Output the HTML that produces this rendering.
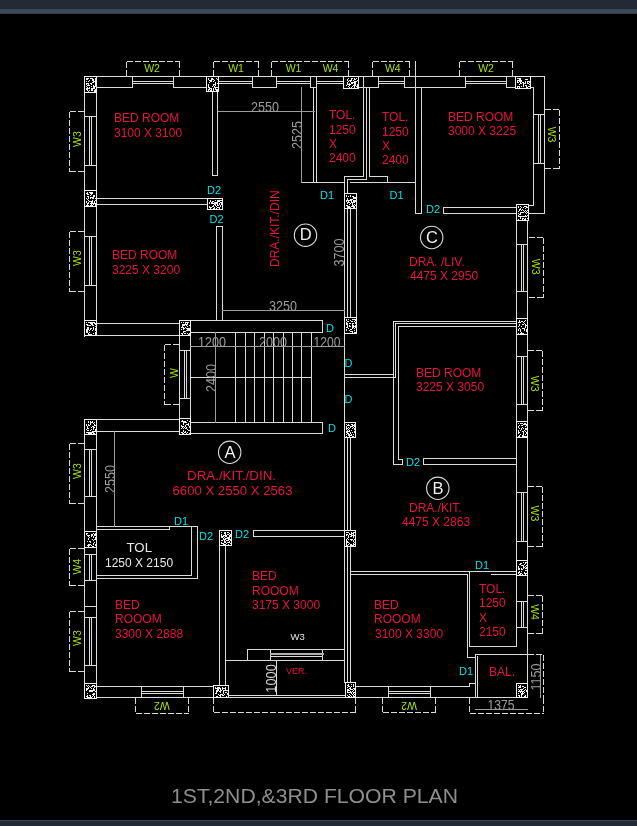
<!DOCTYPE html>
<html><head><meta charset="utf-8"><style>
html,body{margin:0;padding:0;background:#000;width:637px;height:826px;overflow:hidden}
svg{display:block;will-change:transform;font-family:"Liberation Sans",sans-serif}
</style></head><body>
<svg width="637" height="826" viewBox="0 0 637 826" shape-rendering="crispEdges">
<defs><linearGradient id="tb" x1="0" y1="0" x2="0" y2="1">
<stop offset="0" stop-color="#3a4353"/><stop offset="0.5" stop-color="#434c5d"/><stop offset="1" stop-color="#353d4c"/></linearGradient></defs>
<rect x="0" y="0" width="637" height="826" fill="#000"/>
<rect x="0" y="0" width="637" height="9" fill="#232a35"/>
<rect x="0" y="9" width="637" height="5" fill="url(#tb)"/>
<rect x="0" y="820" width="637" height="6" fill="#232a35"/>
<rect x="0" y="820" width="637" height="1" fill="#3e4757"/>
<line x1="84.5" y1="76.5" x2="544.5" y2="76.5" stroke="#dadada" stroke-width="1" stroke-linecap="square"/>
<line x1="96.5" y1="87.5" x2="132.5" y2="87.5" stroke="#dadada" stroke-width="1" stroke-linecap="square"/>
<line x1="173.5" y1="87.5" x2="206.5" y2="87.5" stroke="#dadada" stroke-width="1" stroke-linecap="square"/>
<line x1="218.5" y1="87.5" x2="218.5" y2="87.5" stroke="#dadada" stroke-width="1" stroke-linecap="square"/>
<line x1="252.5" y1="87.5" x2="276.5" y2="87.5" stroke="#dadada" stroke-width="1" stroke-linecap="square"/>
<line x1="310.5" y1="87.5" x2="316.5" y2="87.5" stroke="#dadada" stroke-width="1" stroke-linecap="square"/>
<line x1="343.5" y1="87.5" x2="343.5" y2="87.5" stroke="#dadada" stroke-width="1" stroke-linecap="square"/>
<line x1="358.5" y1="87.5" x2="378.5" y2="87.5" stroke="#dadada" stroke-width="1" stroke-linecap="square"/>
<line x1="404.5" y1="87.5" x2="465.5" y2="87.5" stroke="#dadada" stroke-width="1" stroke-linecap="square"/>
<line x1="506.5" y1="87.5" x2="515.5" y2="87.5" stroke="#dadada" stroke-width="1" stroke-linecap="square"/>
<line x1="530.5" y1="87.5" x2="533.5" y2="87.5" stroke="#dadada" stroke-width="1" stroke-linecap="square"/>
<rect x="252.5" y="76.5" width="24.0" height="11.0" fill="none" stroke="#dadada" stroke-width="1"/>
<line x1="132.5" y1="76.5" x2="132.5" y2="87.5" stroke="#dadada" stroke-width="1" stroke-linecap="square"/>
<line x1="173.5" y1="76.5" x2="173.5" y2="87.5" stroke="#dadada" stroke-width="1" stroke-linecap="square"/>
<line x1="132.5" y1="81.5" x2="173.5" y2="81.5" stroke="#dadada" stroke-width="1" stroke-linecap="square"/>
<line x1="132.5" y1="83.5" x2="173.5" y2="83.5" stroke="#dadada" stroke-width="1" stroke-linecap="square"/>
<line x1="218.5" y1="76.5" x2="218.5" y2="87.5" stroke="#dadada" stroke-width="1" stroke-linecap="square"/>
<line x1="252.5" y1="76.5" x2="252.5" y2="87.5" stroke="#dadada" stroke-width="1" stroke-linecap="square"/>
<line x1="218.5" y1="81.5" x2="252.5" y2="81.5" stroke="#dadada" stroke-width="1" stroke-linecap="square"/>
<line x1="218.5" y1="83.5" x2="252.5" y2="83.5" stroke="#dadada" stroke-width="1" stroke-linecap="square"/>
<line x1="276.5" y1="76.5" x2="276.5" y2="87.5" stroke="#dadada" stroke-width="1" stroke-linecap="square"/>
<line x1="310.5" y1="76.5" x2="310.5" y2="87.5" stroke="#dadada" stroke-width="1" stroke-linecap="square"/>
<line x1="276.5" y1="81.5" x2="310.5" y2="81.5" stroke="#dadada" stroke-width="1" stroke-linecap="square"/>
<line x1="276.5" y1="83.5" x2="310.5" y2="83.5" stroke="#dadada" stroke-width="1" stroke-linecap="square"/>
<line x1="316.5" y1="76.5" x2="316.5" y2="87.5" stroke="#dadada" stroke-width="1" stroke-linecap="square"/>
<line x1="343.5" y1="76.5" x2="343.5" y2="87.5" stroke="#dadada" stroke-width="1" stroke-linecap="square"/>
<line x1="316.5" y1="81.5" x2="343.5" y2="81.5" stroke="#dadada" stroke-width="1" stroke-linecap="square"/>
<line x1="316.5" y1="83.5" x2="343.5" y2="83.5" stroke="#dadada" stroke-width="1" stroke-linecap="square"/>
<line x1="378.5" y1="76.5" x2="378.5" y2="87.5" stroke="#dadada" stroke-width="1" stroke-linecap="square"/>
<line x1="404.5" y1="76.5" x2="404.5" y2="87.5" stroke="#dadada" stroke-width="1" stroke-linecap="square"/>
<line x1="378.5" y1="81.5" x2="404.5" y2="81.5" stroke="#dadada" stroke-width="1" stroke-linecap="square"/>
<line x1="378.5" y1="83.5" x2="404.5" y2="83.5" stroke="#dadada" stroke-width="1" stroke-linecap="square"/>
<line x1="465.5" y1="76.5" x2="465.5" y2="87.5" stroke="#dadada" stroke-width="1" stroke-linecap="square"/>
<line x1="506.5" y1="76.5" x2="506.5" y2="87.5" stroke="#dadada" stroke-width="1" stroke-linecap="square"/>
<line x1="465.5" y1="81.5" x2="506.5" y2="81.5" stroke="#dadada" stroke-width="1" stroke-linecap="square"/>
<line x1="465.5" y1="83.5" x2="506.5" y2="83.5" stroke="#dadada" stroke-width="1" stroke-linecap="square"/>
<line x1="84.5" y1="76.5" x2="84.5" y2="336.5" stroke="#dadada" stroke-width="1" stroke-linecap="square"/>
<line x1="96.5" y1="87.5" x2="96.5" y2="320.5" stroke="#dadada" stroke-width="1" stroke-linecap="square"/>
<line x1="84.5" y1="419.5" x2="84.5" y2="698.5" stroke="#dadada" stroke-width="1" stroke-linecap="square"/>
<line x1="96.5" y1="434.5" x2="96.5" y2="686.5" stroke="#dadada" stroke-width="1" stroke-linecap="square"/>
<line x1="84.5" y1="116.5" x2="96.5" y2="116.5" stroke="#dadada" stroke-width="1" stroke-linecap="square"/>
<line x1="84.5" y1="165.5" x2="96.5" y2="165.5" stroke="#dadada" stroke-width="1" stroke-linecap="square"/>
<line x1="89.5" y1="116.5" x2="89.5" y2="165.5" stroke="#dadada" stroke-width="1" stroke-linecap="square"/>
<line x1="91.5" y1="116.5" x2="91.5" y2="165.5" stroke="#dadada" stroke-width="1" stroke-linecap="square"/>
<line x1="84.5" y1="236.5" x2="96.5" y2="236.5" stroke="#dadada" stroke-width="1" stroke-linecap="square"/>
<line x1="84.5" y1="285.5" x2="96.5" y2="285.5" stroke="#dadada" stroke-width="1" stroke-linecap="square"/>
<line x1="89.5" y1="236.5" x2="89.5" y2="285.5" stroke="#dadada" stroke-width="1" stroke-linecap="square"/>
<line x1="91.5" y1="236.5" x2="91.5" y2="285.5" stroke="#dadada" stroke-width="1" stroke-linecap="square"/>
<line x1="84.5" y1="449.5" x2="96.5" y2="449.5" stroke="#dadada" stroke-width="1" stroke-linecap="square"/>
<line x1="84.5" y1="496.5" x2="96.5" y2="496.5" stroke="#dadada" stroke-width="1" stroke-linecap="square"/>
<line x1="89.5" y1="449.5" x2="89.5" y2="496.5" stroke="#dadada" stroke-width="1" stroke-linecap="square"/>
<line x1="91.5" y1="449.5" x2="91.5" y2="496.5" stroke="#dadada" stroke-width="1" stroke-linecap="square"/>
<line x1="84.5" y1="554.5" x2="96.5" y2="554.5" stroke="#dadada" stroke-width="1" stroke-linecap="square"/>
<line x1="84.5" y1="580.5" x2="96.5" y2="580.5" stroke="#dadada" stroke-width="1" stroke-linecap="square"/>
<line x1="89.5" y1="554.5" x2="89.5" y2="580.5" stroke="#dadada" stroke-width="1" stroke-linecap="square"/>
<line x1="91.5" y1="554.5" x2="91.5" y2="580.5" stroke="#dadada" stroke-width="1" stroke-linecap="square"/>
<line x1="84.5" y1="617.5" x2="96.5" y2="617.5" stroke="#dadada" stroke-width="1" stroke-linecap="square"/>
<line x1="84.5" y1="665.5" x2="96.5" y2="665.5" stroke="#dadada" stroke-width="1" stroke-linecap="square"/>
<line x1="89.5" y1="617.5" x2="89.5" y2="665.5" stroke="#dadada" stroke-width="1" stroke-linecap="square"/>
<line x1="91.5" y1="617.5" x2="91.5" y2="665.5" stroke="#dadada" stroke-width="1" stroke-linecap="square"/>
<line x1="84.5" y1="606.5" x2="96.5" y2="606.5" stroke="#dadada" stroke-width="1" stroke-linecap="square"/>
<line x1="544.5" y1="76.5" x2="544.5" y2="213.5" stroke="#dadada" stroke-width="1" stroke-linecap="square"/>
<line x1="533.5" y1="87.5" x2="533.5" y2="205.5" stroke="#dadada" stroke-width="1" stroke-linecap="square"/>
<polyline points="533.5,205.5 528.5,205.5" fill="none" stroke="#dadada" stroke-width="1"/>
<polyline points="544.5,213.5 528.5,213.5" fill="none" stroke="#dadada" stroke-width="1"/>
<line x1="544.5" y1="114.5" x2="533.5" y2="114.5" stroke="#dadada" stroke-width="1" stroke-linecap="square"/>
<line x1="544.5" y1="163.5" x2="533.5" y2="163.5" stroke="#dadada" stroke-width="1" stroke-linecap="square"/>
<line x1="538.5" y1="114.5" x2="538.5" y2="163.5" stroke="#dadada" stroke-width="1" stroke-linecap="square"/>
<line x1="540.5" y1="114.5" x2="540.5" y2="163.5" stroke="#dadada" stroke-width="1" stroke-linecap="square"/>
<line x1="516.5" y1="220.5" x2="516.5" y2="646.5" stroke="#dadada" stroke-width="1" stroke-linecap="square"/>
<line x1="527.5" y1="213.5" x2="527.5" y2="697.5" stroke="#dadada" stroke-width="1" stroke-linecap="square"/>
<line x1="527.5" y1="244.5" x2="516.5" y2="244.5" stroke="#dadada" stroke-width="1" stroke-linecap="square"/>
<line x1="527.5" y1="291.5" x2="516.5" y2="291.5" stroke="#dadada" stroke-width="1" stroke-linecap="square"/>
<line x1="521.5" y1="244.5" x2="521.5" y2="291.5" stroke="#dadada" stroke-width="1" stroke-linecap="square"/>
<line x1="523.5" y1="244.5" x2="523.5" y2="291.5" stroke="#dadada" stroke-width="1" stroke-linecap="square"/>
<line x1="527.5" y1="356.5" x2="516.5" y2="356.5" stroke="#dadada" stroke-width="1" stroke-linecap="square"/>
<line x1="527.5" y1="404.5" x2="516.5" y2="404.5" stroke="#dadada" stroke-width="1" stroke-linecap="square"/>
<line x1="521.5" y1="356.5" x2="521.5" y2="404.5" stroke="#dadada" stroke-width="1" stroke-linecap="square"/>
<line x1="523.5" y1="356.5" x2="523.5" y2="404.5" stroke="#dadada" stroke-width="1" stroke-linecap="square"/>
<line x1="527.5" y1="492.5" x2="516.5" y2="492.5" stroke="#dadada" stroke-width="1" stroke-linecap="square"/>
<line x1="527.5" y1="541.5" x2="516.5" y2="541.5" stroke="#dadada" stroke-width="1" stroke-linecap="square"/>
<line x1="521.5" y1="492.5" x2="521.5" y2="541.5" stroke="#dadada" stroke-width="1" stroke-linecap="square"/>
<line x1="523.5" y1="492.5" x2="523.5" y2="541.5" stroke="#dadada" stroke-width="1" stroke-linecap="square"/>
<line x1="527.5" y1="601.5" x2="516.5" y2="601.5" stroke="#dadada" stroke-width="1" stroke-linecap="square"/>
<line x1="527.5" y1="627.5" x2="516.5" y2="627.5" stroke="#dadada" stroke-width="1" stroke-linecap="square"/>
<line x1="521.5" y1="601.5" x2="521.5" y2="627.5" stroke="#dadada" stroke-width="1" stroke-linecap="square"/>
<line x1="523.5" y1="601.5" x2="523.5" y2="627.5" stroke="#dadada" stroke-width="1" stroke-linecap="square"/>
<line x1="84.5" y1="697.5" x2="475.5" y2="697.5" stroke="#dadada" stroke-width="1" stroke-linecap="square"/>
<line x1="96.5" y1="686.5" x2="213.5" y2="686.5" stroke="#dadada" stroke-width="1" stroke-linecap="square"/>
<line x1="141.5" y1="697.5" x2="141.5" y2="686.5" stroke="#dadada" stroke-width="1" stroke-linecap="square"/>
<line x1="183.5" y1="697.5" x2="183.5" y2="686.5" stroke="#dadada" stroke-width="1" stroke-linecap="square"/>
<line x1="141.5" y1="691.5" x2="183.5" y2="691.5" stroke="#dadada" stroke-width="1" stroke-linecap="square"/>
<line x1="141.5" y1="693.5" x2="183.5" y2="693.5" stroke="#dadada" stroke-width="1" stroke-linecap="square"/>
<polyline points="212.5,91.5 212.5,175.5 217.5,175.5 217.5,91.5" fill="none" stroke="#dadada" stroke-width="1"/>
<line x1="96.5" y1="198.5" x2="207.5" y2="198.5" stroke="#dadada" stroke-width="1" stroke-linecap="square"/>
<line x1="96.5" y1="204.5" x2="207.5" y2="204.5" stroke="#dadada" stroke-width="1" stroke-linecap="square"/>
<polyline points="216.5,320.5 216.5,226.5 222.5,226.5 222.5,320.5" fill="none" stroke="#dadada" stroke-width="1"/>
<line x1="96.5" y1="323.5" x2="179.5" y2="323.5" stroke="#dadada" stroke-width="1" stroke-linecap="square"/>
<line x1="96.5" y1="335.5" x2="179.5" y2="335.5" stroke="#dadada" stroke-width="1" stroke-linecap="square"/>
<line x1="84.5" y1="336.5" x2="84.5" y2="336.5" stroke="#dadada" stroke-width="1" stroke-linecap="square"/>
<line x1="96.5" y1="431.5" x2="179.5" y2="431.5" stroke="#dadada" stroke-width="1" stroke-linecap="square"/>
<line x1="84.5" y1="419.5" x2="179.5" y2="419.5" stroke="#dadada" stroke-width="1" stroke-linecap="square"/>
<line x1="313.5" y1="87.5" x2="313.5" y2="182.5" stroke="#dadada" stroke-width="1" stroke-linecap="square"/>
<line x1="316.5" y1="87.5" x2="316.5" y2="182.5" stroke="#dadada" stroke-width="1" stroke-linecap="square"/>
<line x1="301.5" y1="182.5" x2="344.5" y2="182.5" stroke="#dadada" stroke-width="1" stroke-linecap="square"/>
<line x1="301.5" y1="87.5" x2="301.5" y2="182.5" stroke="#9c9c9c" stroke-width="1" stroke-linecap="square"/>
<polyline points="363.5,76.5 363.5,176.5 344.5,176.5 344.5,193.5" fill="none" stroke="#dadada" stroke-width="1"/>
<polyline points="366.5,87.5 366.5,179.5 347.5,179.5 347.5,193.5" fill="none" stroke="#dadada" stroke-width="1"/>
<polyline points="369.5,87.5 369.5,176.5 387.5,176.5 387.5,182.5" fill="none" stroke="#dadada" stroke-width="1"/>
<line x1="350.5" y1="182.5" x2="415.5" y2="182.5" stroke="#dadada" stroke-width="1" stroke-linecap="square"/>
<polyline points="415.5,60.5 415.5,213.5 421.5,213.5 421.5,87.5" fill="none" stroke="#dadada" stroke-width="1"/>
<polyline points="443.5,213.5 443.5,207.5 516.5,207.5" fill="none" stroke="#dadada" stroke-width="1"/>
<line x1="443.5" y1="213.5" x2="516.5" y2="213.5" stroke="#dadada" stroke-width="1" stroke-linecap="square"/>
<line x1="344.5" y1="208.5" x2="344.5" y2="317.5" stroke="#dadada" stroke-width="1" stroke-linecap="square"/>
<line x1="347.5" y1="208.5" x2="347.5" y2="317.5" stroke="#dadada" stroke-width="1" stroke-linecap="square"/>
<line x1="350.5" y1="208.5" x2="350.5" y2="317.5" stroke="#dadada" stroke-width="1" stroke-linecap="square"/>
<line x1="356.5" y1="208.5" x2="356.5" y2="317.5" stroke="#dadada" stroke-width="1" stroke-linecap="square"/>
<rect x="179.5" y="320.5" width="143.0" height="12.0" fill="none" stroke="#dadada" stroke-width="1"/>
<line x1="344.5" y1="333.5" x2="344.5" y2="422.5" stroke="#dadada" stroke-width="1" stroke-linecap="square"/>
<line x1="235.5" y1="332.5" x2="235.5" y2="422.5" stroke="#dadada" stroke-width="1" stroke-linecap="square"/>
<line x1="245.5" y1="332.5" x2="245.5" y2="422.5" stroke="#dadada" stroke-width="1" stroke-linecap="square"/>
<line x1="254.5" y1="332.5" x2="254.5" y2="422.5" stroke="#dadada" stroke-width="1" stroke-linecap="square"/>
<line x1="264.5" y1="332.5" x2="264.5" y2="422.5" stroke="#dadada" stroke-width="1" stroke-linecap="square"/>
<line x1="273.5" y1="332.5" x2="273.5" y2="422.5" stroke="#dadada" stroke-width="1" stroke-linecap="square"/>
<line x1="283.5" y1="332.5" x2="283.5" y2="422.5" stroke="#dadada" stroke-width="1" stroke-linecap="square"/>
<line x1="292.5" y1="332.5" x2="292.5" y2="422.5" stroke="#dadada" stroke-width="1" stroke-linecap="square"/>
<line x1="301.5" y1="332.5" x2="301.5" y2="422.5" stroke="#dadada" stroke-width="1" stroke-linecap="square"/>
<line x1="311.5" y1="332.5" x2="311.5" y2="422.5" stroke="#dadada" stroke-width="1" stroke-linecap="square"/>
<line x1="190.5" y1="377.5" x2="311.5" y2="377.5" stroke="#dadada" stroke-width="1" stroke-linecap="square"/>
<polyline points="190.5,422.5 322.5,422.5 322.5,433.5 190.5,433.5" fill="none" stroke="#dadada" stroke-width="1"/>
<line x1="179.5" y1="335.5" x2="179.5" y2="418.5" stroke="#dadada" stroke-width="1" stroke-linecap="square"/>
<line x1="190.5" y1="335.5" x2="190.5" y2="418.5" stroke="#dadada" stroke-width="1" stroke-linecap="square"/>
<line x1="179.5" y1="350.5" x2="190.5" y2="350.5" stroke="#dadada" stroke-width="1" stroke-linecap="square"/>
<line x1="179.5" y1="398.5" x2="190.5" y2="398.5" stroke="#dadada" stroke-width="1" stroke-linecap="square"/>
<line x1="184.5" y1="350.5" x2="184.5" y2="398.5" stroke="#dadada" stroke-width="1" stroke-linecap="square"/>
<line x1="186.5" y1="350.5" x2="186.5" y2="398.5" stroke="#dadada" stroke-width="1" stroke-linecap="square"/>
<line x1="345.5" y1="374.5" x2="393.5" y2="374.5" stroke="#dadada" stroke-width="1" stroke-linecap="square"/>
<line x1="345.5" y1="377.5" x2="395.5" y2="377.5" stroke="#dadada" stroke-width="1" stroke-linecap="square"/>
<polyline points="393.5,464.5 393.5,321.5 516.5,321.5" fill="none" stroke="#dadada" stroke-width="1"/>
<polyline points="395.5,377.5 395.5,323.5 516.5,323.5" fill="none" stroke="#dadada" stroke-width="1"/>
<polyline points="402.5,464.5 402.5,459.5 398.5,459.5 398.5,326.5 516.5,326.5" fill="none" stroke="#dadada" stroke-width="1"/>
<line x1="393.5" y1="464.5" x2="402.5" y2="464.5" stroke="#dadada" stroke-width="1" stroke-linecap="square"/>
<polyline points="516.5,458.5 423.5,458.5 423.5,464.5 516.5,464.5" fill="none" stroke="#dadada" stroke-width="1"/>
<line x1="344.5" y1="437.5" x2="344.5" y2="530.5" stroke="#dadada" stroke-width="1" stroke-linecap="square"/>
<line x1="344.5" y1="546.5" x2="344.5" y2="682.5" stroke="#dadada" stroke-width="1" stroke-linecap="square"/>
<line x1="347.5" y1="437.5" x2="347.5" y2="530.5" stroke="#dadada" stroke-width="1" stroke-linecap="square"/>
<line x1="347.5" y1="546.5" x2="347.5" y2="682.5" stroke="#dadada" stroke-width="1" stroke-linecap="square"/>
<line x1="350.5" y1="437.5" x2="350.5" y2="530.5" stroke="#dadada" stroke-width="1" stroke-linecap="square"/>
<line x1="350.5" y1="546.5" x2="350.5" y2="682.5" stroke="#dadada" stroke-width="1" stroke-linecap="square"/>
<polyline points="96.5,526.5 197.5,526.5 197.5,578.5 96.5,578.5" fill="none" stroke="#dadada" stroke-width="1"/>
<polyline points="96.5,529.5 169.5,529.5 169.5,526.5" fill="none" stroke="#dadada" stroke-width="1"/>
<polyline points="191.5,526.5 191.5,575.5 96.5,575.5" fill="none" stroke="#dadada" stroke-width="1"/>
<line x1="114.5" y1="431.5" x2="114.5" y2="526.5" stroke="#9c9c9c" stroke-width="1" stroke-linecap="square"/>
<polyline points="253.5,536.5 253.5,530.5 344.5,530.5" fill="none" stroke="#dadada" stroke-width="1"/>
<line x1="253.5" y1="536.5" x2="344.5" y2="536.5" stroke="#dadada" stroke-width="1" stroke-linecap="square"/>
<line x1="219.5" y1="545.5" x2="219.5" y2="685.5" stroke="#dadada" stroke-width="1" stroke-linecap="square"/>
<line x1="225.5" y1="545.5" x2="225.5" y2="686.5" stroke="#dadada" stroke-width="1" stroke-linecap="square"/>
<rect x="247.5" y="649.5" width="97.0" height="11.0" fill="none" stroke="#dadada" stroke-width="1"/>
<line x1="270.5" y1="649.5" x2="270.5" y2="660.5" stroke="#dadada" stroke-width="1" stroke-linecap="square"/>
<line x1="322.5" y1="649.5" x2="322.5" y2="660.5" stroke="#dadada" stroke-width="1" stroke-linecap="square"/>
<line x1="270.5" y1="653.5" x2="322.5" y2="653.5" stroke="#b0b0b0" stroke-width="2" stroke-linecap="square"/>
<line x1="270.5" y1="656.5" x2="322.5" y2="656.5" stroke="#dadada" stroke-width="1" stroke-linecap="square"/>
<line x1="225.5" y1="660.5" x2="344.5" y2="660.5" stroke="#dadada" stroke-width="1" stroke-linecap="square"/>
<line x1="276.5" y1="660.5" x2="276.5" y2="695.5" stroke="#dadada" stroke-width="1" stroke-linecap="square"/>
<line x1="228.5" y1="695.5" x2="345.5" y2="695.5" stroke="#dadada" stroke-width="1" stroke-linecap="square"/>
<line x1="350.5" y1="571.5" x2="516.5" y2="571.5" stroke="#dadada" stroke-width="1" stroke-linecap="square"/>
<line x1="350.5" y1="574.5" x2="467.5" y2="574.5" stroke="#dadada" stroke-width="1" stroke-linecap="square"/>
<polyline points="467.5,574.5 467.5,657.5 475.5,657.5" fill="none" stroke="#dadada" stroke-width="1"/>
<polyline points="469.5,571.5 469.5,646.5 516.5,646.5" fill="none" stroke="#dadada" stroke-width="1"/>
<line x1="491.5" y1="574.5" x2="516.5" y2="574.5" stroke="#dadada" stroke-width="1" stroke-linecap="square"/>
<rect x="475.5" y="654.5" width="52.0" height="43.0" fill="none" stroke="#dadada" stroke-width="1"/>
<line x1="477.5" y1="656.5" x2="477.5" y2="697.5" stroke="#dadada" stroke-width="1" stroke-linecap="square"/>
<polyline points="355.5,686.5 469.5,686.5 469.5,683.5 475.5,683.5" fill="none" stroke="#dadada" stroke-width="1"/>
<line x1="388.5" y1="697.5" x2="388.5" y2="686.5" stroke="#dadada" stroke-width="1" stroke-linecap="square"/>
<line x1="430.5" y1="697.5" x2="430.5" y2="686.5" stroke="#dadada" stroke-width="1" stroke-linecap="square"/>
<line x1="388.5" y1="691.5" x2="430.5" y2="691.5" stroke="#dadada" stroke-width="1" stroke-linecap="square"/>
<line x1="388.5" y1="693.5" x2="430.5" y2="693.5" stroke="#dadada" stroke-width="1" stroke-linecap="square"/>
<line x1="126.5" y1="61.5" x2="179.5" y2="61.5" stroke="#dadada" stroke-width="1" stroke-dasharray="6,2" fill="none"/>
<line x1="126.5" y1="61.5" x2="126.5" y2="76.5" stroke="#dadada" stroke-width="1" stroke-dasharray="6,2" fill="none"/>
<line x1="179.5" y1="61.5" x2="179.5" y2="76.5" stroke="#dadada" stroke-width="1" stroke-dasharray="6,2" fill="none"/>
<line x1="213.5" y1="61.5" x2="258.5" y2="61.5" stroke="#dadada" stroke-width="1" stroke-dasharray="6,2" fill="none"/>
<line x1="213.5" y1="61.5" x2="213.5" y2="76.5" stroke="#dadada" stroke-width="1" stroke-dasharray="6,2" fill="none"/>
<line x1="258.5" y1="61.5" x2="258.5" y2="76.5" stroke="#dadada" stroke-width="1" stroke-dasharray="6,2" fill="none"/>
<line x1="271.5" y1="61.5" x2="348.5" y2="61.5" stroke="#dadada" stroke-width="1" stroke-dasharray="6,2" fill="none"/>
<line x1="271.5" y1="61.5" x2="271.5" y2="76.5" stroke="#dadada" stroke-width="1" stroke-dasharray="6,2" fill="none"/>
<line x1="348.5" y1="61.5" x2="348.5" y2="76.5" stroke="#dadada" stroke-width="1" stroke-dasharray="6,2" fill="none"/>
<line x1="372.5" y1="61.5" x2="409.5" y2="61.5" stroke="#dadada" stroke-width="1" stroke-dasharray="6,2" fill="none"/>
<line x1="372.5" y1="61.5" x2="372.5" y2="76.5" stroke="#dadada" stroke-width="1" stroke-dasharray="6,2" fill="none"/>
<line x1="409.5" y1="61.5" x2="409.5" y2="76.5" stroke="#dadada" stroke-width="1" stroke-dasharray="6,2" fill="none"/>
<line x1="459.5" y1="61.5" x2="512.5" y2="61.5" stroke="#dadada" stroke-width="1" stroke-dasharray="6,2" fill="none"/>
<line x1="459.5" y1="61.5" x2="459.5" y2="76.5" stroke="#dadada" stroke-width="1" stroke-dasharray="6,2" fill="none"/>
<line x1="512.5" y1="61.5" x2="512.5" y2="76.5" stroke="#dadada" stroke-width="1" stroke-dasharray="6,2" fill="none"/>
<line x1="69.5" y1="111.5" x2="84.5" y2="111.5" stroke="#dadada" stroke-width="1" stroke-dasharray="6,2" fill="none"/>
<line x1="69.5" y1="171.5" x2="84.5" y2="171.5" stroke="#dadada" stroke-width="1" stroke-dasharray="6,2" fill="none"/>
<line x1="69.5" y1="111.5" x2="69.5" y2="171.5" stroke="#dadada" stroke-width="1" stroke-dasharray="6,2" fill="none"/>
<line x1="69.5" y1="231.5" x2="84.5" y2="231.5" stroke="#dadada" stroke-width="1" stroke-dasharray="6,2" fill="none"/>
<line x1="69.5" y1="291.5" x2="84.5" y2="291.5" stroke="#dadada" stroke-width="1" stroke-dasharray="6,2" fill="none"/>
<line x1="69.5" y1="231.5" x2="69.5" y2="291.5" stroke="#dadada" stroke-width="1" stroke-dasharray="6,2" fill="none"/>
<line x1="164.5" y1="344.5" x2="179.5" y2="344.5" stroke="#dadada" stroke-width="1" stroke-dasharray="6,2" fill="none"/>
<line x1="164.5" y1="404.5" x2="179.5" y2="404.5" stroke="#dadada" stroke-width="1" stroke-dasharray="6,2" fill="none"/>
<line x1="164.5" y1="344.5" x2="164.5" y2="404.5" stroke="#dadada" stroke-width="1" stroke-dasharray="6,2" fill="none"/>
<line x1="69.5" y1="443.5" x2="84.5" y2="443.5" stroke="#dadada" stroke-width="1" stroke-dasharray="6,2" fill="none"/>
<line x1="69.5" y1="503.5" x2="84.5" y2="503.5" stroke="#dadada" stroke-width="1" stroke-dasharray="6,2" fill="none"/>
<line x1="69.5" y1="443.5" x2="69.5" y2="503.5" stroke="#dadada" stroke-width="1" stroke-dasharray="6,2" fill="none"/>
<line x1="69.5" y1="548.5" x2="84.5" y2="548.5" stroke="#dadada" stroke-width="1" stroke-dasharray="6,2" fill="none"/>
<line x1="69.5" y1="585.5" x2="84.5" y2="585.5" stroke="#dadada" stroke-width="1" stroke-dasharray="6,2" fill="none"/>
<line x1="69.5" y1="548.5" x2="69.5" y2="585.5" stroke="#dadada" stroke-width="1" stroke-dasharray="6,2" fill="none"/>
<line x1="69.5" y1="611.5" x2="84.5" y2="611.5" stroke="#dadada" stroke-width="1" stroke-dasharray="6,2" fill="none"/>
<line x1="69.5" y1="671.5" x2="84.5" y2="671.5" stroke="#dadada" stroke-width="1" stroke-dasharray="6,2" fill="none"/>
<line x1="69.5" y1="611.5" x2="69.5" y2="671.5" stroke="#dadada" stroke-width="1" stroke-dasharray="6,2" fill="none"/>
<line x1="544.5" y1="109.5" x2="559.5" y2="109.5" stroke="#dadada" stroke-width="1" stroke-dasharray="6,2" fill="none"/>
<line x1="544.5" y1="168.5" x2="559.5" y2="168.5" stroke="#dadada" stroke-width="1" stroke-dasharray="6,2" fill="none"/>
<line x1="559.5" y1="109.5" x2="559.5" y2="168.5" stroke="#dadada" stroke-width="1" stroke-dasharray="6,2" fill="none"/>
<line x1="528.5" y1="237.5" x2="543.5" y2="237.5" stroke="#dadada" stroke-width="1" stroke-dasharray="6,2" fill="none"/>
<line x1="528.5" y1="297.5" x2="543.5" y2="297.5" stroke="#dadada" stroke-width="1" stroke-dasharray="6,2" fill="none"/>
<line x1="543.5" y1="237.5" x2="543.5" y2="297.5" stroke="#dadada" stroke-width="1" stroke-dasharray="6,2" fill="none"/>
<line x1="527.5" y1="350.5" x2="542.5" y2="350.5" stroke="#dadada" stroke-width="1" stroke-dasharray="6,2" fill="none"/>
<line x1="527.5" y1="410.5" x2="542.5" y2="410.5" stroke="#dadada" stroke-width="1" stroke-dasharray="6,2" fill="none"/>
<line x1="542.5" y1="350.5" x2="542.5" y2="410.5" stroke="#dadada" stroke-width="1" stroke-dasharray="6,2" fill="none"/>
<line x1="527.5" y1="486.5" x2="542.5" y2="486.5" stroke="#dadada" stroke-width="1" stroke-dasharray="6,2" fill="none"/>
<line x1="527.5" y1="546.5" x2="542.5" y2="546.5" stroke="#dadada" stroke-width="1" stroke-dasharray="6,2" fill="none"/>
<line x1="542.5" y1="486.5" x2="542.5" y2="546.5" stroke="#dadada" stroke-width="1" stroke-dasharray="6,2" fill="none"/>
<line x1="527.5" y1="595.5" x2="542.5" y2="595.5" stroke="#dadada" stroke-width="1" stroke-dasharray="6,2" fill="none"/>
<line x1="527.5" y1="633.5" x2="542.5" y2="633.5" stroke="#dadada" stroke-width="1" stroke-dasharray="6,2" fill="none"/>
<line x1="542.5" y1="595.5" x2="542.5" y2="633.5" stroke="#dadada" stroke-width="1" stroke-dasharray="6,2" fill="none"/>
<line x1="135.5" y1="713.5" x2="188.5" y2="713.5" stroke="#dadada" stroke-width="1" stroke-dasharray="6,2" fill="none"/>
<line x1="135.5" y1="697.5" x2="135.5" y2="713.5" stroke="#dadada" stroke-width="1" stroke-dasharray="6,2" fill="none"/>
<line x1="188.5" y1="697.5" x2="188.5" y2="713.5" stroke="#dadada" stroke-width="1" stroke-dasharray="6,2" fill="none"/>
<line x1="213.5" y1="712.5" x2="355.5" y2="712.5" stroke="#dadada" stroke-width="1" stroke-dasharray="6,2" fill="none"/>
<line x1="213.5" y1="697.5" x2="213.5" y2="712.5" stroke="#dadada" stroke-width="1" stroke-dasharray="6,2" fill="none"/>
<line x1="355.5" y1="697.5" x2="355.5" y2="712.5" stroke="#dadada" stroke-width="1" stroke-dasharray="6,2" fill="none"/>
<line x1="382.5" y1="712.5" x2="435.5" y2="712.5" stroke="#dadada" stroke-width="1" stroke-dasharray="6,2" fill="none"/>
<line x1="382.5" y1="697.5" x2="382.5" y2="712.5" stroke="#dadada" stroke-width="1" stroke-dasharray="6,2" fill="none"/>
<line x1="435.5" y1="697.5" x2="435.5" y2="712.5" stroke="#dadada" stroke-width="1" stroke-dasharray="6,2" fill="none"/>
<line x1="469.5" y1="713.5" x2="543.5" y2="713.5" stroke="#dadada" stroke-width="1" stroke-dasharray="6,2" fill="none"/>
<line x1="469.5" y1="697.5" x2="469.5" y2="713.5" stroke="#dadada" stroke-width="1" stroke-dasharray="6,2" fill="none"/>
<line x1="543.5" y1="697.5" x2="543.5" y2="713.5" stroke="#dadada" stroke-width="1" stroke-dasharray="6,2" fill="none"/>
<line x1="527.5" y1="654.5" x2="543.5" y2="654.5" stroke="#dadada" stroke-width="1" stroke-dasharray="6,2" fill="none"/>
<line x1="543.5" y1="654.5" x2="543.5" y2="697.5" stroke="#dadada" stroke-width="1" stroke-dasharray="6,2" fill="none"/>
<rect x="84.5" y="76.5" width="12.0" height="16.0" fill="#000" stroke="#f0f0f0" stroke-width="1"/>
<rect x="86" y="78" width="1" height="1" fill="#f0f0f0"/>
<rect x="86" y="79" width="1" height="1" fill="#f0f0f0"/>
<rect x="86" y="81" width="1" height="1" fill="#f0f0f0"/>
<rect x="86" y="83" width="1" height="1" fill="#f0f0f0"/>
<rect x="86" y="84" width="1" height="1" fill="#f0f0f0"/>
<rect x="86" y="86" width="1" height="1" fill="#f0f0f0"/>
<rect x="86" y="88" width="1" height="1" fill="#f0f0f0"/>
<rect x="86" y="89" width="1" height="1" fill="#f0f0f0"/>
<rect x="87" y="78" width="1" height="1" fill="#f0f0f0"/>
<rect x="87" y="79" width="1" height="1" fill="#f0f0f0"/>
<rect x="87" y="83" width="1" height="1" fill="#f0f0f0"/>
<rect x="87" y="85" width="1" height="1" fill="#f0f0f0"/>
<rect x="87" y="87" width="1" height="1" fill="#f0f0f0"/>
<rect x="87" y="88" width="1" height="1" fill="#f0f0f0"/>
<rect x="87" y="89" width="1" height="1" fill="#f0f0f0"/>
<rect x="87" y="90" width="1" height="1" fill="#f0f0f0"/>
<rect x="88" y="78" width="1" height="1" fill="#f0f0f0"/>
<rect x="88" y="81" width="1" height="1" fill="#f0f0f0"/>
<rect x="88" y="83" width="1" height="1" fill="#f0f0f0"/>
<rect x="88" y="84" width="1" height="1" fill="#f0f0f0"/>
<rect x="88" y="85" width="1" height="1" fill="#f0f0f0"/>
<rect x="88" y="88" width="1" height="1" fill="#f0f0f0"/>
<rect x="88" y="91" width="1" height="1" fill="#f0f0f0"/>
<rect x="89" y="80" width="1" height="1" fill="#f0f0f0"/>
<rect x="89" y="85" width="1" height="1" fill="#f0f0f0"/>
<rect x="89" y="87" width="1" height="1" fill="#f0f0f0"/>
<rect x="89" y="88" width="1" height="1" fill="#f0f0f0"/>
<rect x="89" y="90" width="1" height="1" fill="#f0f0f0"/>
<rect x="90" y="78" width="1" height="1" fill="#f0f0f0"/>
<rect x="90" y="83" width="1" height="1" fill="#f0f0f0"/>
<rect x="91" y="78" width="1" height="1" fill="#f0f0f0"/>
<rect x="91" y="83" width="1" height="1" fill="#f0f0f0"/>
<rect x="91" y="84" width="1" height="1" fill="#f0f0f0"/>
<rect x="91" y="86" width="1" height="1" fill="#f0f0f0"/>
<rect x="91" y="88" width="1" height="1" fill="#f0f0f0"/>
<rect x="91" y="89" width="1" height="1" fill="#f0f0f0"/>
<rect x="91" y="90" width="1" height="1" fill="#f0f0f0"/>
<rect x="92" y="78" width="1" height="1" fill="#f0f0f0"/>
<rect x="92" y="79" width="1" height="1" fill="#f0f0f0"/>
<rect x="92" y="80" width="1" height="1" fill="#f0f0f0"/>
<rect x="92" y="82" width="1" height="1" fill="#f0f0f0"/>
<rect x="92" y="88" width="1" height="1" fill="#f0f0f0"/>
<rect x="92" y="89" width="1" height="1" fill="#f0f0f0"/>
<rect x="92" y="90" width="1" height="1" fill="#f0f0f0"/>
<rect x="93" y="79" width="1" height="1" fill="#f0f0f0"/>
<rect x="93" y="80" width="1" height="1" fill="#f0f0f0"/>
<rect x="93" y="81" width="1" height="1" fill="#f0f0f0"/>
<rect x="93" y="82" width="1" height="1" fill="#f0f0f0"/>
<rect x="93" y="85" width="1" height="1" fill="#f0f0f0"/>
<rect x="93" y="86" width="1" height="1" fill="#f0f0f0"/>
<rect x="93" y="87" width="1" height="1" fill="#f0f0f0"/>
<rect x="93" y="88" width="1" height="1" fill="#f0f0f0"/>
<rect x="94" y="81" width="1" height="1" fill="#f0f0f0"/>
<rect x="94" y="86" width="1" height="1" fill="#f0f0f0"/>
<rect x="94" y="87" width="1" height="1" fill="#f0f0f0"/>
<rect x="94" y="88" width="1" height="1" fill="#f0f0f0"/>
<rect x="94" y="90" width="1" height="1" fill="#f0f0f0"/>
<rect x="94" y="91" width="1" height="1" fill="#f0f0f0"/>
<rect x="95" y="78" width="1" height="1" fill="#f0f0f0"/>
<rect x="95" y="79" width="1" height="1" fill="#f0f0f0"/>
<rect x="95" y="80" width="1" height="1" fill="#f0f0f0"/>
<rect x="95" y="81" width="1" height="1" fill="#f0f0f0"/>
<rect x="95" y="82" width="1" height="1" fill="#f0f0f0"/>
<rect x="95" y="83" width="1" height="1" fill="#f0f0f0"/>
<rect x="95" y="84" width="1" height="1" fill="#f0f0f0"/>
<rect x="95" y="85" width="1" height="1" fill="#f0f0f0"/>
<rect x="95" y="86" width="1" height="1" fill="#f0f0f0"/>
<rect x="95" y="89" width="1" height="1" fill="#f0f0f0"/>
<rect x="95" y="90" width="1" height="1" fill="#f0f0f0"/>
<rect x="95" y="91" width="1" height="1" fill="#f0f0f0"/>
<rect x="206.5" y="76.5" width="12.0" height="15.0" fill="#000" stroke="#f0f0f0" stroke-width="1"/>
<rect x="208" y="78" width="1" height="1" fill="#f0f0f0"/>
<rect x="208" y="79" width="1" height="1" fill="#f0f0f0"/>
<rect x="208" y="84" width="1" height="1" fill="#f0f0f0"/>
<rect x="208" y="85" width="1" height="1" fill="#f0f0f0"/>
<rect x="208" y="86" width="1" height="1" fill="#f0f0f0"/>
<rect x="208" y="87" width="1" height="1" fill="#f0f0f0"/>
<rect x="208" y="89" width="1" height="1" fill="#f0f0f0"/>
<rect x="208" y="90" width="1" height="1" fill="#f0f0f0"/>
<rect x="209" y="80" width="1" height="1" fill="#f0f0f0"/>
<rect x="209" y="82" width="1" height="1" fill="#f0f0f0"/>
<rect x="209" y="87" width="1" height="1" fill="#f0f0f0"/>
<rect x="209" y="88" width="1" height="1" fill="#f0f0f0"/>
<rect x="209" y="89" width="1" height="1" fill="#f0f0f0"/>
<rect x="210" y="80" width="1" height="1" fill="#f0f0f0"/>
<rect x="210" y="81" width="1" height="1" fill="#f0f0f0"/>
<rect x="210" y="88" width="1" height="1" fill="#f0f0f0"/>
<rect x="210" y="90" width="1" height="1" fill="#f0f0f0"/>
<rect x="211" y="78" width="1" height="1" fill="#f0f0f0"/>
<rect x="211" y="79" width="1" height="1" fill="#f0f0f0"/>
<rect x="211" y="80" width="1" height="1" fill="#f0f0f0"/>
<rect x="211" y="81" width="1" height="1" fill="#f0f0f0"/>
<rect x="211" y="88" width="1" height="1" fill="#f0f0f0"/>
<rect x="211" y="89" width="1" height="1" fill="#f0f0f0"/>
<rect x="211" y="90" width="1" height="1" fill="#f0f0f0"/>
<rect x="212" y="78" width="1" height="1" fill="#f0f0f0"/>
<rect x="212" y="79" width="1" height="1" fill="#f0f0f0"/>
<rect x="212" y="86" width="1" height="1" fill="#f0f0f0"/>
<rect x="213" y="79" width="1" height="1" fill="#f0f0f0"/>
<rect x="213" y="81" width="1" height="1" fill="#f0f0f0"/>
<rect x="213" y="84" width="1" height="1" fill="#f0f0f0"/>
<rect x="213" y="85" width="1" height="1" fill="#f0f0f0"/>
<rect x="213" y="88" width="1" height="1" fill="#f0f0f0"/>
<rect x="213" y="89" width="1" height="1" fill="#f0f0f0"/>
<rect x="213" y="90" width="1" height="1" fill="#f0f0f0"/>
<rect x="214" y="80" width="1" height="1" fill="#f0f0f0"/>
<rect x="214" y="84" width="1" height="1" fill="#f0f0f0"/>
<rect x="214" y="86" width="1" height="1" fill="#f0f0f0"/>
<rect x="214" y="87" width="1" height="1" fill="#f0f0f0"/>
<rect x="215" y="82" width="1" height="1" fill="#f0f0f0"/>
<rect x="215" y="83" width="1" height="1" fill="#f0f0f0"/>
<rect x="215" y="84" width="1" height="1" fill="#f0f0f0"/>
<rect x="215" y="85" width="1" height="1" fill="#f0f0f0"/>
<rect x="215" y="87" width="1" height="1" fill="#f0f0f0"/>
<rect x="215" y="88" width="1" height="1" fill="#f0f0f0"/>
<rect x="215" y="89" width="1" height="1" fill="#f0f0f0"/>
<rect x="216" y="78" width="1" height="1" fill="#f0f0f0"/>
<rect x="216" y="87" width="1" height="1" fill="#f0f0f0"/>
<rect x="216" y="89" width="1" height="1" fill="#f0f0f0"/>
<rect x="216" y="90" width="1" height="1" fill="#f0f0f0"/>
<rect x="217" y="79" width="1" height="1" fill="#f0f0f0"/>
<rect x="217" y="83" width="1" height="1" fill="#f0f0f0"/>
<rect x="217" y="87" width="1" height="1" fill="#f0f0f0"/>
<rect x="217" y="89" width="1" height="1" fill="#f0f0f0"/>
<rect x="217" y="90" width="1" height="1" fill="#f0f0f0"/>
<rect x="343.5" y="76.5" width="15.0" height="12.0" fill="#000" stroke="#f0f0f0" stroke-width="1"/>
<rect x="346" y="85" width="1" height="1" fill="#f0f0f0"/>
<rect x="347" y="79" width="1" height="1" fill="#f0f0f0"/>
<rect x="347" y="80" width="1" height="1" fill="#f0f0f0"/>
<rect x="347" y="82" width="1" height="1" fill="#f0f0f0"/>
<rect x="347" y="83" width="1" height="1" fill="#f0f0f0"/>
<rect x="347" y="84" width="1" height="1" fill="#f0f0f0"/>
<rect x="348" y="78" width="1" height="1" fill="#f0f0f0"/>
<rect x="348" y="81" width="1" height="1" fill="#f0f0f0"/>
<rect x="348" y="84" width="1" height="1" fill="#f0f0f0"/>
<rect x="348" y="86" width="1" height="1" fill="#f0f0f0"/>
<rect x="349" y="80" width="1" height="1" fill="#f0f0f0"/>
<rect x="349" y="83" width="1" height="1" fill="#f0f0f0"/>
<rect x="349" y="84" width="1" height="1" fill="#f0f0f0"/>
<rect x="349" y="85" width="1" height="1" fill="#f0f0f0"/>
<rect x="349" y="87" width="1" height="1" fill="#f0f0f0"/>
<rect x="350" y="80" width="1" height="1" fill="#f0f0f0"/>
<rect x="350" y="81" width="1" height="1" fill="#f0f0f0"/>
<rect x="350" y="84" width="1" height="1" fill="#f0f0f0"/>
<rect x="351" y="78" width="1" height="1" fill="#f0f0f0"/>
<rect x="351" y="79" width="1" height="1" fill="#f0f0f0"/>
<rect x="351" y="80" width="1" height="1" fill="#f0f0f0"/>
<rect x="351" y="82" width="1" height="1" fill="#f0f0f0"/>
<rect x="351" y="83" width="1" height="1" fill="#f0f0f0"/>
<rect x="351" y="87" width="1" height="1" fill="#f0f0f0"/>
<rect x="352" y="78" width="1" height="1" fill="#f0f0f0"/>
<rect x="352" y="82" width="1" height="1" fill="#f0f0f0"/>
<rect x="352" y="83" width="1" height="1" fill="#f0f0f0"/>
<rect x="352" y="86" width="1" height="1" fill="#f0f0f0"/>
<rect x="353" y="80" width="1" height="1" fill="#f0f0f0"/>
<rect x="353" y="82" width="1" height="1" fill="#f0f0f0"/>
<rect x="353" y="85" width="1" height="1" fill="#f0f0f0"/>
<rect x="354" y="78" width="1" height="1" fill="#f0f0f0"/>
<rect x="354" y="79" width="1" height="1" fill="#f0f0f0"/>
<rect x="354" y="81" width="1" height="1" fill="#f0f0f0"/>
<rect x="354" y="82" width="1" height="1" fill="#f0f0f0"/>
<rect x="354" y="83" width="1" height="1" fill="#f0f0f0"/>
<rect x="354" y="84" width="1" height="1" fill="#f0f0f0"/>
<rect x="354" y="85" width="1" height="1" fill="#f0f0f0"/>
<rect x="354" y="86" width="1" height="1" fill="#f0f0f0"/>
<rect x="354" y="87" width="1" height="1" fill="#f0f0f0"/>
<rect x="355" y="79" width="1" height="1" fill="#f0f0f0"/>
<rect x="355" y="81" width="1" height="1" fill="#f0f0f0"/>
<rect x="355" y="82" width="1" height="1" fill="#f0f0f0"/>
<rect x="355" y="83" width="1" height="1" fill="#f0f0f0"/>
<rect x="355" y="84" width="1" height="1" fill="#f0f0f0"/>
<rect x="355" y="85" width="1" height="1" fill="#f0f0f0"/>
<rect x="356" y="78" width="1" height="1" fill="#f0f0f0"/>
<rect x="356" y="81" width="1" height="1" fill="#f0f0f0"/>
<rect x="356" y="86" width="1" height="1" fill="#f0f0f0"/>
<rect x="357" y="80" width="1" height="1" fill="#f0f0f0"/>
<rect x="357" y="84" width="1" height="1" fill="#f0f0f0"/>
<rect x="357" y="85" width="1" height="1" fill="#f0f0f0"/>
<rect x="357" y="86" width="1" height="1" fill="#f0f0f0"/>
<rect x="357" y="87" width="1" height="1" fill="#f0f0f0"/>
<rect x="515.5" y="76.5" width="15.0" height="12.0" fill="#000" stroke="#f0f0f0" stroke-width="1"/>
<rect x="517" y="78" width="1" height="1" fill="#f0f0f0"/>
<rect x="517" y="80" width="1" height="1" fill="#f0f0f0"/>
<rect x="517" y="81" width="1" height="1" fill="#f0f0f0"/>
<rect x="517" y="82" width="1" height="1" fill="#f0f0f0"/>
<rect x="517" y="86" width="1" height="1" fill="#f0f0f0"/>
<rect x="517" y="87" width="1" height="1" fill="#f0f0f0"/>
<rect x="518" y="78" width="1" height="1" fill="#f0f0f0"/>
<rect x="518" y="80" width="1" height="1" fill="#f0f0f0"/>
<rect x="518" y="82" width="1" height="1" fill="#f0f0f0"/>
<rect x="518" y="86" width="1" height="1" fill="#f0f0f0"/>
<rect x="519" y="78" width="1" height="1" fill="#f0f0f0"/>
<rect x="519" y="79" width="1" height="1" fill="#f0f0f0"/>
<rect x="519" y="80" width="1" height="1" fill="#f0f0f0"/>
<rect x="519" y="81" width="1" height="1" fill="#f0f0f0"/>
<rect x="519" y="84" width="1" height="1" fill="#f0f0f0"/>
<rect x="519" y="86" width="1" height="1" fill="#f0f0f0"/>
<rect x="519" y="87" width="1" height="1" fill="#f0f0f0"/>
<rect x="520" y="78" width="1" height="1" fill="#f0f0f0"/>
<rect x="520" y="79" width="1" height="1" fill="#f0f0f0"/>
<rect x="520" y="80" width="1" height="1" fill="#f0f0f0"/>
<rect x="520" y="81" width="1" height="1" fill="#f0f0f0"/>
<rect x="520" y="82" width="1" height="1" fill="#f0f0f0"/>
<rect x="520" y="83" width="1" height="1" fill="#f0f0f0"/>
<rect x="521" y="80" width="1" height="1" fill="#f0f0f0"/>
<rect x="521" y="81" width="1" height="1" fill="#f0f0f0"/>
<rect x="521" y="83" width="1" height="1" fill="#f0f0f0"/>
<rect x="521" y="86" width="1" height="1" fill="#f0f0f0"/>
<rect x="522" y="82" width="1" height="1" fill="#f0f0f0"/>
<rect x="523" y="82" width="1" height="1" fill="#f0f0f0"/>
<rect x="523" y="83" width="1" height="1" fill="#f0f0f0"/>
<rect x="523" y="84" width="1" height="1" fill="#f0f0f0"/>
<rect x="523" y="85" width="1" height="1" fill="#f0f0f0"/>
<rect x="523" y="86" width="1" height="1" fill="#f0f0f0"/>
<rect x="524" y="83" width="1" height="1" fill="#f0f0f0"/>
<rect x="525" y="79" width="1" height="1" fill="#f0f0f0"/>
<rect x="525" y="81" width="1" height="1" fill="#f0f0f0"/>
<rect x="525" y="82" width="1" height="1" fill="#f0f0f0"/>
<rect x="525" y="83" width="1" height="1" fill="#f0f0f0"/>
<rect x="525" y="85" width="1" height="1" fill="#f0f0f0"/>
<rect x="526" y="79" width="1" height="1" fill="#f0f0f0"/>
<rect x="526" y="85" width="1" height="1" fill="#f0f0f0"/>
<rect x="526" y="86" width="1" height="1" fill="#f0f0f0"/>
<rect x="526" y="87" width="1" height="1" fill="#f0f0f0"/>
<rect x="527" y="79" width="1" height="1" fill="#f0f0f0"/>
<rect x="527" y="81" width="1" height="1" fill="#f0f0f0"/>
<rect x="527" y="82" width="1" height="1" fill="#f0f0f0"/>
<rect x="527" y="83" width="1" height="1" fill="#f0f0f0"/>
<rect x="527" y="87" width="1" height="1" fill="#f0f0f0"/>
<rect x="528" y="81" width="1" height="1" fill="#f0f0f0"/>
<rect x="528" y="83" width="1" height="1" fill="#f0f0f0"/>
<rect x="528" y="86" width="1" height="1" fill="#f0f0f0"/>
<rect x="529" y="81" width="1" height="1" fill="#f0f0f0"/>
<rect x="529" y="82" width="1" height="1" fill="#f0f0f0"/>
<rect x="529" y="84" width="1" height="1" fill="#f0f0f0"/>
<rect x="529" y="86" width="1" height="1" fill="#f0f0f0"/>
<rect x="84.5" y="190.5" width="12.0" height="16.0" fill="#000" stroke="#f0f0f0" stroke-width="1"/>
<rect x="86" y="193" width="1" height="1" fill="#f0f0f0"/>
<rect x="86" y="198" width="1" height="1" fill="#f0f0f0"/>
<rect x="86" y="201" width="1" height="1" fill="#f0f0f0"/>
<rect x="86" y="202" width="1" height="1" fill="#f0f0f0"/>
<rect x="86" y="205" width="1" height="1" fill="#f0f0f0"/>
<rect x="87" y="192" width="1" height="1" fill="#f0f0f0"/>
<rect x="87" y="193" width="1" height="1" fill="#f0f0f0"/>
<rect x="87" y="194" width="1" height="1" fill="#f0f0f0"/>
<rect x="87" y="196" width="1" height="1" fill="#f0f0f0"/>
<rect x="87" y="199" width="1" height="1" fill="#f0f0f0"/>
<rect x="87" y="203" width="1" height="1" fill="#f0f0f0"/>
<rect x="87" y="204" width="1" height="1" fill="#f0f0f0"/>
<rect x="87" y="205" width="1" height="1" fill="#f0f0f0"/>
<rect x="88" y="194" width="1" height="1" fill="#f0f0f0"/>
<rect x="88" y="196" width="1" height="1" fill="#f0f0f0"/>
<rect x="88" y="197" width="1" height="1" fill="#f0f0f0"/>
<rect x="88" y="198" width="1" height="1" fill="#f0f0f0"/>
<rect x="88" y="200" width="1" height="1" fill="#f0f0f0"/>
<rect x="88" y="202" width="1" height="1" fill="#f0f0f0"/>
<rect x="88" y="203" width="1" height="1" fill="#f0f0f0"/>
<rect x="88" y="205" width="1" height="1" fill="#f0f0f0"/>
<rect x="89" y="192" width="1" height="1" fill="#f0f0f0"/>
<rect x="89" y="201" width="1" height="1" fill="#f0f0f0"/>
<rect x="90" y="192" width="1" height="1" fill="#f0f0f0"/>
<rect x="90" y="193" width="1" height="1" fill="#f0f0f0"/>
<rect x="90" y="195" width="1" height="1" fill="#f0f0f0"/>
<rect x="90" y="197" width="1" height="1" fill="#f0f0f0"/>
<rect x="90" y="198" width="1" height="1" fill="#f0f0f0"/>
<rect x="90" y="201" width="1" height="1" fill="#f0f0f0"/>
<rect x="90" y="203" width="1" height="1" fill="#f0f0f0"/>
<rect x="90" y="205" width="1" height="1" fill="#f0f0f0"/>
<rect x="91" y="192" width="1" height="1" fill="#f0f0f0"/>
<rect x="91" y="193" width="1" height="1" fill="#f0f0f0"/>
<rect x="91" y="194" width="1" height="1" fill="#f0f0f0"/>
<rect x="91" y="197" width="1" height="1" fill="#f0f0f0"/>
<rect x="91" y="201" width="1" height="1" fill="#f0f0f0"/>
<rect x="91" y="202" width="1" height="1" fill="#f0f0f0"/>
<rect x="91" y="203" width="1" height="1" fill="#f0f0f0"/>
<rect x="91" y="204" width="1" height="1" fill="#f0f0f0"/>
<rect x="91" y="205" width="1" height="1" fill="#f0f0f0"/>
<rect x="92" y="192" width="1" height="1" fill="#f0f0f0"/>
<rect x="92" y="193" width="1" height="1" fill="#f0f0f0"/>
<rect x="92" y="197" width="1" height="1" fill="#f0f0f0"/>
<rect x="92" y="198" width="1" height="1" fill="#f0f0f0"/>
<rect x="92" y="200" width="1" height="1" fill="#f0f0f0"/>
<rect x="92" y="201" width="1" height="1" fill="#f0f0f0"/>
<rect x="92" y="202" width="1" height="1" fill="#f0f0f0"/>
<rect x="92" y="203" width="1" height="1" fill="#f0f0f0"/>
<rect x="92" y="205" width="1" height="1" fill="#f0f0f0"/>
<rect x="93" y="195" width="1" height="1" fill="#f0f0f0"/>
<rect x="93" y="196" width="1" height="1" fill="#f0f0f0"/>
<rect x="93" y="197" width="1" height="1" fill="#f0f0f0"/>
<rect x="93" y="198" width="1" height="1" fill="#f0f0f0"/>
<rect x="93" y="203" width="1" height="1" fill="#f0f0f0"/>
<rect x="93" y="204" width="1" height="1" fill="#f0f0f0"/>
<rect x="94" y="195" width="1" height="1" fill="#f0f0f0"/>
<rect x="94" y="196" width="1" height="1" fill="#f0f0f0"/>
<rect x="94" y="201" width="1" height="1" fill="#f0f0f0"/>
<rect x="94" y="202" width="1" height="1" fill="#f0f0f0"/>
<rect x="94" y="203" width="1" height="1" fill="#f0f0f0"/>
<rect x="95" y="198" width="1" height="1" fill="#f0f0f0"/>
<rect x="95" y="200" width="1" height="1" fill="#f0f0f0"/>
<rect x="95" y="203" width="1" height="1" fill="#f0f0f0"/>
<rect x="95" y="204" width="1" height="1" fill="#f0f0f0"/>
<rect x="95" y="205" width="1" height="1" fill="#f0f0f0"/>
<rect x="207.5" y="198.5" width="15.0" height="11.0" fill="#000" stroke="#f0f0f0" stroke-width="1"/>
<rect x="209" y="202" width="1" height="1" fill="#f0f0f0"/>
<rect x="209" y="203" width="1" height="1" fill="#f0f0f0"/>
<rect x="209" y="206" width="1" height="1" fill="#f0f0f0"/>
<rect x="209" y="207" width="1" height="1" fill="#f0f0f0"/>
<rect x="210" y="200" width="1" height="1" fill="#f0f0f0"/>
<rect x="210" y="201" width="1" height="1" fill="#f0f0f0"/>
<rect x="210" y="207" width="1" height="1" fill="#f0f0f0"/>
<rect x="210" y="208" width="1" height="1" fill="#f0f0f0"/>
<rect x="211" y="202" width="1" height="1" fill="#f0f0f0"/>
<rect x="211" y="203" width="1" height="1" fill="#f0f0f0"/>
<rect x="211" y="207" width="1" height="1" fill="#f0f0f0"/>
<rect x="212" y="201" width="1" height="1" fill="#f0f0f0"/>
<rect x="212" y="202" width="1" height="1" fill="#f0f0f0"/>
<rect x="212" y="203" width="1" height="1" fill="#f0f0f0"/>
<rect x="212" y="206" width="1" height="1" fill="#f0f0f0"/>
<rect x="213" y="201" width="1" height="1" fill="#f0f0f0"/>
<rect x="213" y="203" width="1" height="1" fill="#f0f0f0"/>
<rect x="213" y="205" width="1" height="1" fill="#f0f0f0"/>
<rect x="213" y="206" width="1" height="1" fill="#f0f0f0"/>
<rect x="213" y="208" width="1" height="1" fill="#f0f0f0"/>
<rect x="214" y="202" width="1" height="1" fill="#f0f0f0"/>
<rect x="214" y="203" width="1" height="1" fill="#f0f0f0"/>
<rect x="214" y="204" width="1" height="1" fill="#f0f0f0"/>
<rect x="214" y="207" width="1" height="1" fill="#f0f0f0"/>
<rect x="214" y="208" width="1" height="1" fill="#f0f0f0"/>
<rect x="215" y="200" width="1" height="1" fill="#f0f0f0"/>
<rect x="215" y="202" width="1" height="1" fill="#f0f0f0"/>
<rect x="215" y="203" width="1" height="1" fill="#f0f0f0"/>
<rect x="215" y="204" width="1" height="1" fill="#f0f0f0"/>
<rect x="215" y="205" width="1" height="1" fill="#f0f0f0"/>
<rect x="216" y="202" width="1" height="1" fill="#f0f0f0"/>
<rect x="216" y="203" width="1" height="1" fill="#f0f0f0"/>
<rect x="216" y="206" width="1" height="1" fill="#f0f0f0"/>
<rect x="216" y="208" width="1" height="1" fill="#f0f0f0"/>
<rect x="217" y="200" width="1" height="1" fill="#f0f0f0"/>
<rect x="217" y="201" width="1" height="1" fill="#f0f0f0"/>
<rect x="217" y="202" width="1" height="1" fill="#f0f0f0"/>
<rect x="217" y="203" width="1" height="1" fill="#f0f0f0"/>
<rect x="217" y="204" width="1" height="1" fill="#f0f0f0"/>
<rect x="217" y="205" width="1" height="1" fill="#f0f0f0"/>
<rect x="217" y="207" width="1" height="1" fill="#f0f0f0"/>
<rect x="218" y="200" width="1" height="1" fill="#f0f0f0"/>
<rect x="218" y="201" width="1" height="1" fill="#f0f0f0"/>
<rect x="218" y="205" width="1" height="1" fill="#f0f0f0"/>
<rect x="218" y="207" width="1" height="1" fill="#f0f0f0"/>
<rect x="219" y="200" width="1" height="1" fill="#f0f0f0"/>
<rect x="219" y="201" width="1" height="1" fill="#f0f0f0"/>
<rect x="219" y="203" width="1" height="1" fill="#f0f0f0"/>
<rect x="219" y="204" width="1" height="1" fill="#f0f0f0"/>
<rect x="219" y="207" width="1" height="1" fill="#f0f0f0"/>
<rect x="219" y="208" width="1" height="1" fill="#f0f0f0"/>
<rect x="220" y="200" width="1" height="1" fill="#f0f0f0"/>
<rect x="220" y="202" width="1" height="1" fill="#f0f0f0"/>
<rect x="220" y="205" width="1" height="1" fill="#f0f0f0"/>
<rect x="220" y="206" width="1" height="1" fill="#f0f0f0"/>
<rect x="221" y="200" width="1" height="1" fill="#f0f0f0"/>
<rect x="221" y="202" width="1" height="1" fill="#f0f0f0"/>
<rect x="221" y="203" width="1" height="1" fill="#f0f0f0"/>
<rect x="221" y="204" width="1" height="1" fill="#f0f0f0"/>
<rect x="344.5" y="193.5" width="12.0" height="15.0" fill="#000" stroke="#f0f0f0" stroke-width="1"/>
<rect x="346" y="195" width="1" height="1" fill="#f0f0f0"/>
<rect x="346" y="196" width="1" height="1" fill="#f0f0f0"/>
<rect x="346" y="200" width="1" height="1" fill="#f0f0f0"/>
<rect x="346" y="201" width="1" height="1" fill="#f0f0f0"/>
<rect x="346" y="205" width="1" height="1" fill="#f0f0f0"/>
<rect x="347" y="198" width="1" height="1" fill="#f0f0f0"/>
<rect x="347" y="199" width="1" height="1" fill="#f0f0f0"/>
<rect x="347" y="200" width="1" height="1" fill="#f0f0f0"/>
<rect x="347" y="202" width="1" height="1" fill="#f0f0f0"/>
<rect x="347" y="203" width="1" height="1" fill="#f0f0f0"/>
<rect x="347" y="205" width="1" height="1" fill="#f0f0f0"/>
<rect x="347" y="206" width="1" height="1" fill="#f0f0f0"/>
<rect x="347" y="207" width="1" height="1" fill="#f0f0f0"/>
<rect x="348" y="196" width="1" height="1" fill="#f0f0f0"/>
<rect x="348" y="200" width="1" height="1" fill="#f0f0f0"/>
<rect x="348" y="201" width="1" height="1" fill="#f0f0f0"/>
<rect x="348" y="202" width="1" height="1" fill="#f0f0f0"/>
<rect x="348" y="206" width="1" height="1" fill="#f0f0f0"/>
<rect x="348" y="207" width="1" height="1" fill="#f0f0f0"/>
<rect x="349" y="200" width="1" height="1" fill="#f0f0f0"/>
<rect x="349" y="202" width="1" height="1" fill="#f0f0f0"/>
<rect x="349" y="204" width="1" height="1" fill="#f0f0f0"/>
<rect x="349" y="206" width="1" height="1" fill="#f0f0f0"/>
<rect x="349" y="207" width="1" height="1" fill="#f0f0f0"/>
<rect x="350" y="195" width="1" height="1" fill="#f0f0f0"/>
<rect x="350" y="196" width="1" height="1" fill="#f0f0f0"/>
<rect x="350" y="199" width="1" height="1" fill="#f0f0f0"/>
<rect x="350" y="200" width="1" height="1" fill="#f0f0f0"/>
<rect x="350" y="203" width="1" height="1" fill="#f0f0f0"/>
<rect x="350" y="207" width="1" height="1" fill="#f0f0f0"/>
<rect x="351" y="199" width="1" height="1" fill="#f0f0f0"/>
<rect x="351" y="200" width="1" height="1" fill="#f0f0f0"/>
<rect x="351" y="201" width="1" height="1" fill="#f0f0f0"/>
<rect x="351" y="202" width="1" height="1" fill="#f0f0f0"/>
<rect x="351" y="206" width="1" height="1" fill="#f0f0f0"/>
<rect x="352" y="196" width="1" height="1" fill="#f0f0f0"/>
<rect x="352" y="199" width="1" height="1" fill="#f0f0f0"/>
<rect x="352" y="202" width="1" height="1" fill="#f0f0f0"/>
<rect x="352" y="203" width="1" height="1" fill="#f0f0f0"/>
<rect x="352" y="204" width="1" height="1" fill="#f0f0f0"/>
<rect x="352" y="205" width="1" height="1" fill="#f0f0f0"/>
<rect x="352" y="206" width="1" height="1" fill="#f0f0f0"/>
<rect x="353" y="196" width="1" height="1" fill="#f0f0f0"/>
<rect x="353" y="197" width="1" height="1" fill="#f0f0f0"/>
<rect x="353" y="198" width="1" height="1" fill="#f0f0f0"/>
<rect x="353" y="200" width="1" height="1" fill="#f0f0f0"/>
<rect x="353" y="201" width="1" height="1" fill="#f0f0f0"/>
<rect x="353" y="202" width="1" height="1" fill="#f0f0f0"/>
<rect x="353" y="205" width="1" height="1" fill="#f0f0f0"/>
<rect x="353" y="206" width="1" height="1" fill="#f0f0f0"/>
<rect x="353" y="207" width="1" height="1" fill="#f0f0f0"/>
<rect x="354" y="197" width="1" height="1" fill="#f0f0f0"/>
<rect x="354" y="198" width="1" height="1" fill="#f0f0f0"/>
<rect x="354" y="200" width="1" height="1" fill="#f0f0f0"/>
<rect x="354" y="201" width="1" height="1" fill="#f0f0f0"/>
<rect x="354" y="202" width="1" height="1" fill="#f0f0f0"/>
<rect x="354" y="204" width="1" height="1" fill="#f0f0f0"/>
<rect x="354" y="206" width="1" height="1" fill="#f0f0f0"/>
<rect x="354" y="207" width="1" height="1" fill="#f0f0f0"/>
<rect x="355" y="197" width="1" height="1" fill="#f0f0f0"/>
<rect x="355" y="198" width="1" height="1" fill="#f0f0f0"/>
<rect x="355" y="200" width="1" height="1" fill="#f0f0f0"/>
<rect x="355" y="201" width="1" height="1" fill="#f0f0f0"/>
<rect x="355" y="205" width="1" height="1" fill="#f0f0f0"/>
<rect x="516.5" y="204.5" width="12.0" height="16.0" fill="#000" stroke="#f0f0f0" stroke-width="1"/>
<rect x="518" y="206" width="1" height="1" fill="#f0f0f0"/>
<rect x="518" y="207" width="1" height="1" fill="#f0f0f0"/>
<rect x="518" y="211" width="1" height="1" fill="#f0f0f0"/>
<rect x="518" y="213" width="1" height="1" fill="#f0f0f0"/>
<rect x="518" y="215" width="1" height="1" fill="#f0f0f0"/>
<rect x="518" y="216" width="1" height="1" fill="#f0f0f0"/>
<rect x="518" y="219" width="1" height="1" fill="#f0f0f0"/>
<rect x="519" y="209" width="1" height="1" fill="#f0f0f0"/>
<rect x="519" y="210" width="1" height="1" fill="#f0f0f0"/>
<rect x="519" y="214" width="1" height="1" fill="#f0f0f0"/>
<rect x="519" y="216" width="1" height="1" fill="#f0f0f0"/>
<rect x="520" y="206" width="1" height="1" fill="#f0f0f0"/>
<rect x="520" y="208" width="1" height="1" fill="#f0f0f0"/>
<rect x="520" y="209" width="1" height="1" fill="#f0f0f0"/>
<rect x="520" y="212" width="1" height="1" fill="#f0f0f0"/>
<rect x="520" y="213" width="1" height="1" fill="#f0f0f0"/>
<rect x="520" y="214" width="1" height="1" fill="#f0f0f0"/>
<rect x="520" y="216" width="1" height="1" fill="#f0f0f0"/>
<rect x="520" y="217" width="1" height="1" fill="#f0f0f0"/>
<rect x="520" y="218" width="1" height="1" fill="#f0f0f0"/>
<rect x="521" y="207" width="1" height="1" fill="#f0f0f0"/>
<rect x="521" y="210" width="1" height="1" fill="#f0f0f0"/>
<rect x="521" y="212" width="1" height="1" fill="#f0f0f0"/>
<rect x="521" y="216" width="1" height="1" fill="#f0f0f0"/>
<rect x="522" y="209" width="1" height="1" fill="#f0f0f0"/>
<rect x="522" y="212" width="1" height="1" fill="#f0f0f0"/>
<rect x="522" y="216" width="1" height="1" fill="#f0f0f0"/>
<rect x="522" y="218" width="1" height="1" fill="#f0f0f0"/>
<rect x="522" y="219" width="1" height="1" fill="#f0f0f0"/>
<rect x="523" y="207" width="1" height="1" fill="#f0f0f0"/>
<rect x="523" y="210" width="1" height="1" fill="#f0f0f0"/>
<rect x="523" y="212" width="1" height="1" fill="#f0f0f0"/>
<rect x="523" y="216" width="1" height="1" fill="#f0f0f0"/>
<rect x="523" y="218" width="1" height="1" fill="#f0f0f0"/>
<rect x="524" y="206" width="1" height="1" fill="#f0f0f0"/>
<rect x="524" y="211" width="1" height="1" fill="#f0f0f0"/>
<rect x="524" y="216" width="1" height="1" fill="#f0f0f0"/>
<rect x="524" y="219" width="1" height="1" fill="#f0f0f0"/>
<rect x="525" y="206" width="1" height="1" fill="#f0f0f0"/>
<rect x="525" y="208" width="1" height="1" fill="#f0f0f0"/>
<rect x="525" y="210" width="1" height="1" fill="#f0f0f0"/>
<rect x="525" y="212" width="1" height="1" fill="#f0f0f0"/>
<rect x="525" y="215" width="1" height="1" fill="#f0f0f0"/>
<rect x="525" y="216" width="1" height="1" fill="#f0f0f0"/>
<rect x="525" y="218" width="1" height="1" fill="#f0f0f0"/>
<rect x="525" y="219" width="1" height="1" fill="#f0f0f0"/>
<rect x="526" y="206" width="1" height="1" fill="#f0f0f0"/>
<rect x="526" y="207" width="1" height="1" fill="#f0f0f0"/>
<rect x="526" y="211" width="1" height="1" fill="#f0f0f0"/>
<rect x="526" y="213" width="1" height="1" fill="#f0f0f0"/>
<rect x="526" y="216" width="1" height="1" fill="#f0f0f0"/>
<rect x="527" y="207" width="1" height="1" fill="#f0f0f0"/>
<rect x="527" y="210" width="1" height="1" fill="#f0f0f0"/>
<rect x="527" y="212" width="1" height="1" fill="#f0f0f0"/>
<rect x="527" y="215" width="1" height="1" fill="#f0f0f0"/>
<rect x="527" y="218" width="1" height="1" fill="#f0f0f0"/>
<rect x="84.5" y="320.5" width="12.0" height="15.0" fill="#000" stroke="#f0f0f0" stroke-width="1"/>
<rect x="86" y="322" width="1" height="1" fill="#f0f0f0"/>
<rect x="86" y="324" width="1" height="1" fill="#f0f0f0"/>
<rect x="86" y="329" width="1" height="1" fill="#f0f0f0"/>
<rect x="86" y="330" width="1" height="1" fill="#f0f0f0"/>
<rect x="86" y="331" width="1" height="1" fill="#f0f0f0"/>
<rect x="86" y="332" width="1" height="1" fill="#f0f0f0"/>
<rect x="87" y="324" width="1" height="1" fill="#f0f0f0"/>
<rect x="87" y="325" width="1" height="1" fill="#f0f0f0"/>
<rect x="87" y="327" width="1" height="1" fill="#f0f0f0"/>
<rect x="87" y="328" width="1" height="1" fill="#f0f0f0"/>
<rect x="87" y="329" width="1" height="1" fill="#f0f0f0"/>
<rect x="87" y="330" width="1" height="1" fill="#f0f0f0"/>
<rect x="87" y="331" width="1" height="1" fill="#f0f0f0"/>
<rect x="87" y="332" width="1" height="1" fill="#f0f0f0"/>
<rect x="88" y="322" width="1" height="1" fill="#f0f0f0"/>
<rect x="88" y="325" width="1" height="1" fill="#f0f0f0"/>
<rect x="88" y="327" width="1" height="1" fill="#f0f0f0"/>
<rect x="88" y="328" width="1" height="1" fill="#f0f0f0"/>
<rect x="88" y="329" width="1" height="1" fill="#f0f0f0"/>
<rect x="88" y="333" width="1" height="1" fill="#f0f0f0"/>
<rect x="88" y="334" width="1" height="1" fill="#f0f0f0"/>
<rect x="89" y="322" width="1" height="1" fill="#f0f0f0"/>
<rect x="89" y="325" width="1" height="1" fill="#f0f0f0"/>
<rect x="89" y="330" width="1" height="1" fill="#f0f0f0"/>
<rect x="89" y="332" width="1" height="1" fill="#f0f0f0"/>
<rect x="89" y="334" width="1" height="1" fill="#f0f0f0"/>
<rect x="90" y="322" width="1" height="1" fill="#f0f0f0"/>
<rect x="90" y="323" width="1" height="1" fill="#f0f0f0"/>
<rect x="90" y="325" width="1" height="1" fill="#f0f0f0"/>
<rect x="90" y="328" width="1" height="1" fill="#f0f0f0"/>
<rect x="90" y="329" width="1" height="1" fill="#f0f0f0"/>
<rect x="90" y="334" width="1" height="1" fill="#f0f0f0"/>
<rect x="91" y="322" width="1" height="1" fill="#f0f0f0"/>
<rect x="91" y="323" width="1" height="1" fill="#f0f0f0"/>
<rect x="91" y="324" width="1" height="1" fill="#f0f0f0"/>
<rect x="91" y="328" width="1" height="1" fill="#f0f0f0"/>
<rect x="91" y="334" width="1" height="1" fill="#f0f0f0"/>
<rect x="92" y="322" width="1" height="1" fill="#f0f0f0"/>
<rect x="92" y="323" width="1" height="1" fill="#f0f0f0"/>
<rect x="92" y="324" width="1" height="1" fill="#f0f0f0"/>
<rect x="92" y="325" width="1" height="1" fill="#f0f0f0"/>
<rect x="92" y="330" width="1" height="1" fill="#f0f0f0"/>
<rect x="93" y="322" width="1" height="1" fill="#f0f0f0"/>
<rect x="93" y="325" width="1" height="1" fill="#f0f0f0"/>
<rect x="93" y="327" width="1" height="1" fill="#f0f0f0"/>
<rect x="93" y="328" width="1" height="1" fill="#f0f0f0"/>
<rect x="93" y="329" width="1" height="1" fill="#f0f0f0"/>
<rect x="93" y="333" width="1" height="1" fill="#f0f0f0"/>
<rect x="94" y="322" width="1" height="1" fill="#f0f0f0"/>
<rect x="94" y="323" width="1" height="1" fill="#f0f0f0"/>
<rect x="95" y="323" width="1" height="1" fill="#f0f0f0"/>
<rect x="95" y="324" width="1" height="1" fill="#f0f0f0"/>
<rect x="95" y="326" width="1" height="1" fill="#f0f0f0"/>
<rect x="95" y="328" width="1" height="1" fill="#f0f0f0"/>
<rect x="95" y="329" width="1" height="1" fill="#f0f0f0"/>
<rect x="95" y="330" width="1" height="1" fill="#f0f0f0"/>
<rect x="95" y="332" width="1" height="1" fill="#f0f0f0"/>
<rect x="95" y="333" width="1" height="1" fill="#f0f0f0"/>
<rect x="95" y="334" width="1" height="1" fill="#f0f0f0"/>
<rect x="179.5" y="320.5" width="11.0" height="15.0" fill="#000" stroke="#f0f0f0" stroke-width="1"/>
<rect x="181" y="322" width="1" height="1" fill="#f0f0f0"/>
<rect x="181" y="327" width="1" height="1" fill="#f0f0f0"/>
<rect x="181" y="329" width="1" height="1" fill="#f0f0f0"/>
<rect x="181" y="333" width="1" height="1" fill="#f0f0f0"/>
<rect x="182" y="324" width="1" height="1" fill="#f0f0f0"/>
<rect x="182" y="325" width="1" height="1" fill="#f0f0f0"/>
<rect x="182" y="326" width="1" height="1" fill="#f0f0f0"/>
<rect x="182" y="327" width="1" height="1" fill="#f0f0f0"/>
<rect x="182" y="333" width="1" height="1" fill="#f0f0f0"/>
<rect x="182" y="334" width="1" height="1" fill="#f0f0f0"/>
<rect x="183" y="322" width="1" height="1" fill="#f0f0f0"/>
<rect x="183" y="324" width="1" height="1" fill="#f0f0f0"/>
<rect x="183" y="325" width="1" height="1" fill="#f0f0f0"/>
<rect x="183" y="327" width="1" height="1" fill="#f0f0f0"/>
<rect x="183" y="328" width="1" height="1" fill="#f0f0f0"/>
<rect x="183" y="329" width="1" height="1" fill="#f0f0f0"/>
<rect x="183" y="331" width="1" height="1" fill="#f0f0f0"/>
<rect x="183" y="332" width="1" height="1" fill="#f0f0f0"/>
<rect x="184" y="324" width="1" height="1" fill="#f0f0f0"/>
<rect x="184" y="325" width="1" height="1" fill="#f0f0f0"/>
<rect x="184" y="328" width="1" height="1" fill="#f0f0f0"/>
<rect x="184" y="331" width="1" height="1" fill="#f0f0f0"/>
<rect x="184" y="333" width="1" height="1" fill="#f0f0f0"/>
<rect x="185" y="322" width="1" height="1" fill="#f0f0f0"/>
<rect x="185" y="323" width="1" height="1" fill="#f0f0f0"/>
<rect x="185" y="324" width="1" height="1" fill="#f0f0f0"/>
<rect x="185" y="327" width="1" height="1" fill="#f0f0f0"/>
<rect x="185" y="331" width="1" height="1" fill="#f0f0f0"/>
<rect x="185" y="333" width="1" height="1" fill="#f0f0f0"/>
<rect x="186" y="322" width="1" height="1" fill="#f0f0f0"/>
<rect x="186" y="324" width="1" height="1" fill="#f0f0f0"/>
<rect x="186" y="325" width="1" height="1" fill="#f0f0f0"/>
<rect x="186" y="328" width="1" height="1" fill="#f0f0f0"/>
<rect x="186" y="330" width="1" height="1" fill="#f0f0f0"/>
<rect x="187" y="322" width="1" height="1" fill="#f0f0f0"/>
<rect x="187" y="323" width="1" height="1" fill="#f0f0f0"/>
<rect x="187" y="324" width="1" height="1" fill="#f0f0f0"/>
<rect x="187" y="326" width="1" height="1" fill="#f0f0f0"/>
<rect x="187" y="328" width="1" height="1" fill="#f0f0f0"/>
<rect x="187" y="329" width="1" height="1" fill="#f0f0f0"/>
<rect x="187" y="330" width="1" height="1" fill="#f0f0f0"/>
<rect x="187" y="333" width="1" height="1" fill="#f0f0f0"/>
<rect x="188" y="322" width="1" height="1" fill="#f0f0f0"/>
<rect x="188" y="328" width="1" height="1" fill="#f0f0f0"/>
<rect x="188" y="329" width="1" height="1" fill="#f0f0f0"/>
<rect x="188" y="330" width="1" height="1" fill="#f0f0f0"/>
<rect x="188" y="334" width="1" height="1" fill="#f0f0f0"/>
<rect x="189" y="325" width="1" height="1" fill="#f0f0f0"/>
<rect x="189" y="328" width="1" height="1" fill="#f0f0f0"/>
<rect x="189" y="329" width="1" height="1" fill="#f0f0f0"/>
<rect x="189" y="330" width="1" height="1" fill="#f0f0f0"/>
<rect x="189" y="333" width="1" height="1" fill="#f0f0f0"/>
<rect x="189" y="334" width="1" height="1" fill="#f0f0f0"/>
<rect x="344.5" y="317.5" width="12.0" height="16.0" fill="#000" stroke="#f0f0f0" stroke-width="1"/>
<rect x="346" y="319" width="1" height="1" fill="#f0f0f0"/>
<rect x="346" y="320" width="1" height="1" fill="#f0f0f0"/>
<rect x="346" y="322" width="1" height="1" fill="#f0f0f0"/>
<rect x="346" y="323" width="1" height="1" fill="#f0f0f0"/>
<rect x="346" y="324" width="1" height="1" fill="#f0f0f0"/>
<rect x="346" y="327" width="1" height="1" fill="#f0f0f0"/>
<rect x="346" y="329" width="1" height="1" fill="#f0f0f0"/>
<rect x="346" y="330" width="1" height="1" fill="#f0f0f0"/>
<rect x="347" y="321" width="1" height="1" fill="#f0f0f0"/>
<rect x="347" y="323" width="1" height="1" fill="#f0f0f0"/>
<rect x="347" y="324" width="1" height="1" fill="#f0f0f0"/>
<rect x="347" y="325" width="1" height="1" fill="#f0f0f0"/>
<rect x="347" y="326" width="1" height="1" fill="#f0f0f0"/>
<rect x="347" y="327" width="1" height="1" fill="#f0f0f0"/>
<rect x="348" y="319" width="1" height="1" fill="#f0f0f0"/>
<rect x="348" y="321" width="1" height="1" fill="#f0f0f0"/>
<rect x="348" y="328" width="1" height="1" fill="#f0f0f0"/>
<rect x="349" y="323" width="1" height="1" fill="#f0f0f0"/>
<rect x="349" y="325" width="1" height="1" fill="#f0f0f0"/>
<rect x="349" y="326" width="1" height="1" fill="#f0f0f0"/>
<rect x="349" y="330" width="1" height="1" fill="#f0f0f0"/>
<rect x="350" y="320" width="1" height="1" fill="#f0f0f0"/>
<rect x="350" y="323" width="1" height="1" fill="#f0f0f0"/>
<rect x="350" y="326" width="1" height="1" fill="#f0f0f0"/>
<rect x="350" y="329" width="1" height="1" fill="#f0f0f0"/>
<rect x="350" y="331" width="1" height="1" fill="#f0f0f0"/>
<rect x="351" y="321" width="1" height="1" fill="#f0f0f0"/>
<rect x="351" y="329" width="1" height="1" fill="#f0f0f0"/>
<rect x="351" y="331" width="1" height="1" fill="#f0f0f0"/>
<rect x="352" y="319" width="1" height="1" fill="#f0f0f0"/>
<rect x="352" y="321" width="1" height="1" fill="#f0f0f0"/>
<rect x="352" y="323" width="1" height="1" fill="#f0f0f0"/>
<rect x="352" y="324" width="1" height="1" fill="#f0f0f0"/>
<rect x="352" y="325" width="1" height="1" fill="#f0f0f0"/>
<rect x="352" y="326" width="1" height="1" fill="#f0f0f0"/>
<rect x="352" y="327" width="1" height="1" fill="#f0f0f0"/>
<rect x="352" y="328" width="1" height="1" fill="#f0f0f0"/>
<rect x="352" y="331" width="1" height="1" fill="#f0f0f0"/>
<rect x="352" y="332" width="1" height="1" fill="#f0f0f0"/>
<rect x="353" y="319" width="1" height="1" fill="#f0f0f0"/>
<rect x="353" y="323" width="1" height="1" fill="#f0f0f0"/>
<rect x="353" y="325" width="1" height="1" fill="#f0f0f0"/>
<rect x="353" y="326" width="1" height="1" fill="#f0f0f0"/>
<rect x="353" y="327" width="1" height="1" fill="#f0f0f0"/>
<rect x="354" y="319" width="1" height="1" fill="#f0f0f0"/>
<rect x="354" y="321" width="1" height="1" fill="#f0f0f0"/>
<rect x="354" y="326" width="1" height="1" fill="#f0f0f0"/>
<rect x="354" y="328" width="1" height="1" fill="#f0f0f0"/>
<rect x="354" y="330" width="1" height="1" fill="#f0f0f0"/>
<rect x="354" y="332" width="1" height="1" fill="#f0f0f0"/>
<rect x="355" y="319" width="1" height="1" fill="#f0f0f0"/>
<rect x="355" y="320" width="1" height="1" fill="#f0f0f0"/>
<rect x="355" y="322" width="1" height="1" fill="#f0f0f0"/>
<rect x="355" y="323" width="1" height="1" fill="#f0f0f0"/>
<rect x="355" y="325" width="1" height="1" fill="#f0f0f0"/>
<rect x="355" y="326" width="1" height="1" fill="#f0f0f0"/>
<rect x="355" y="327" width="1" height="1" fill="#f0f0f0"/>
<rect x="355" y="332" width="1" height="1" fill="#f0f0f0"/>
<rect x="516.5" y="318.5" width="11.0" height="16.0" fill="#000" stroke="#f0f0f0" stroke-width="1"/>
<rect x="518" y="322" width="1" height="1" fill="#f0f0f0"/>
<rect x="518" y="326" width="1" height="1" fill="#f0f0f0"/>
<rect x="518" y="329" width="1" height="1" fill="#f0f0f0"/>
<rect x="518" y="330" width="1" height="1" fill="#f0f0f0"/>
<rect x="518" y="333" width="1" height="1" fill="#f0f0f0"/>
<rect x="519" y="320" width="1" height="1" fill="#f0f0f0"/>
<rect x="519" y="321" width="1" height="1" fill="#f0f0f0"/>
<rect x="519" y="322" width="1" height="1" fill="#f0f0f0"/>
<rect x="519" y="324" width="1" height="1" fill="#f0f0f0"/>
<rect x="519" y="325" width="1" height="1" fill="#f0f0f0"/>
<rect x="519" y="328" width="1" height="1" fill="#f0f0f0"/>
<rect x="520" y="322" width="1" height="1" fill="#f0f0f0"/>
<rect x="520" y="329" width="1" height="1" fill="#f0f0f0"/>
<rect x="520" y="330" width="1" height="1" fill="#f0f0f0"/>
<rect x="520" y="331" width="1" height="1" fill="#f0f0f0"/>
<rect x="520" y="333" width="1" height="1" fill="#f0f0f0"/>
<rect x="521" y="321" width="1" height="1" fill="#f0f0f0"/>
<rect x="521" y="326" width="1" height="1" fill="#f0f0f0"/>
<rect x="521" y="332" width="1" height="1" fill="#f0f0f0"/>
<rect x="521" y="333" width="1" height="1" fill="#f0f0f0"/>
<rect x="522" y="321" width="1" height="1" fill="#f0f0f0"/>
<rect x="522" y="324" width="1" height="1" fill="#f0f0f0"/>
<rect x="522" y="328" width="1" height="1" fill="#f0f0f0"/>
<rect x="522" y="333" width="1" height="1" fill="#f0f0f0"/>
<rect x="523" y="322" width="1" height="1" fill="#f0f0f0"/>
<rect x="523" y="324" width="1" height="1" fill="#f0f0f0"/>
<rect x="523" y="328" width="1" height="1" fill="#f0f0f0"/>
<rect x="523" y="333" width="1" height="1" fill="#f0f0f0"/>
<rect x="524" y="321" width="1" height="1" fill="#f0f0f0"/>
<rect x="524" y="323" width="1" height="1" fill="#f0f0f0"/>
<rect x="524" y="328" width="1" height="1" fill="#f0f0f0"/>
<rect x="524" y="329" width="1" height="1" fill="#f0f0f0"/>
<rect x="524" y="330" width="1" height="1" fill="#f0f0f0"/>
<rect x="525" y="320" width="1" height="1" fill="#f0f0f0"/>
<rect x="525" y="324" width="1" height="1" fill="#f0f0f0"/>
<rect x="525" y="325" width="1" height="1" fill="#f0f0f0"/>
<rect x="525" y="326" width="1" height="1" fill="#f0f0f0"/>
<rect x="525" y="327" width="1" height="1" fill="#f0f0f0"/>
<rect x="526" y="325" width="1" height="1" fill="#f0f0f0"/>
<rect x="526" y="329" width="1" height="1" fill="#f0f0f0"/>
<rect x="526" y="330" width="1" height="1" fill="#f0f0f0"/>
<rect x="526" y="331" width="1" height="1" fill="#f0f0f0"/>
<rect x="179.5" y="418.5" width="11.0" height="16.0" fill="#000" stroke="#f0f0f0" stroke-width="1"/>
<rect x="181" y="421" width="1" height="1" fill="#f0f0f0"/>
<rect x="181" y="425" width="1" height="1" fill="#f0f0f0"/>
<rect x="181" y="426" width="1" height="1" fill="#f0f0f0"/>
<rect x="181" y="428" width="1" height="1" fill="#f0f0f0"/>
<rect x="181" y="432" width="1" height="1" fill="#f0f0f0"/>
<rect x="182" y="420" width="1" height="1" fill="#f0f0f0"/>
<rect x="182" y="421" width="1" height="1" fill="#f0f0f0"/>
<rect x="182" y="426" width="1" height="1" fill="#f0f0f0"/>
<rect x="182" y="427" width="1" height="1" fill="#f0f0f0"/>
<rect x="182" y="432" width="1" height="1" fill="#f0f0f0"/>
<rect x="182" y="433" width="1" height="1" fill="#f0f0f0"/>
<rect x="183" y="421" width="1" height="1" fill="#f0f0f0"/>
<rect x="183" y="422" width="1" height="1" fill="#f0f0f0"/>
<rect x="183" y="423" width="1" height="1" fill="#f0f0f0"/>
<rect x="183" y="424" width="1" height="1" fill="#f0f0f0"/>
<rect x="183" y="426" width="1" height="1" fill="#f0f0f0"/>
<rect x="183" y="428" width="1" height="1" fill="#f0f0f0"/>
<rect x="183" y="430" width="1" height="1" fill="#f0f0f0"/>
<rect x="183" y="431" width="1" height="1" fill="#f0f0f0"/>
<rect x="183" y="433" width="1" height="1" fill="#f0f0f0"/>
<rect x="184" y="421" width="1" height="1" fill="#f0f0f0"/>
<rect x="184" y="422" width="1" height="1" fill="#f0f0f0"/>
<rect x="184" y="427" width="1" height="1" fill="#f0f0f0"/>
<rect x="184" y="432" width="1" height="1" fill="#f0f0f0"/>
<rect x="185" y="421" width="1" height="1" fill="#f0f0f0"/>
<rect x="185" y="422" width="1" height="1" fill="#f0f0f0"/>
<rect x="185" y="425" width="1" height="1" fill="#f0f0f0"/>
<rect x="185" y="426" width="1" height="1" fill="#f0f0f0"/>
<rect x="185" y="428" width="1" height="1" fill="#f0f0f0"/>
<rect x="185" y="431" width="1" height="1" fill="#f0f0f0"/>
<rect x="185" y="432" width="1" height="1" fill="#f0f0f0"/>
<rect x="186" y="422" width="1" height="1" fill="#f0f0f0"/>
<rect x="186" y="424" width="1" height="1" fill="#f0f0f0"/>
<rect x="186" y="427" width="1" height="1" fill="#f0f0f0"/>
<rect x="186" y="428" width="1" height="1" fill="#f0f0f0"/>
<rect x="186" y="433" width="1" height="1" fill="#f0f0f0"/>
<rect x="187" y="420" width="1" height="1" fill="#f0f0f0"/>
<rect x="187" y="424" width="1" height="1" fill="#f0f0f0"/>
<rect x="187" y="429" width="1" height="1" fill="#f0f0f0"/>
<rect x="187" y="432" width="1" height="1" fill="#f0f0f0"/>
<rect x="188" y="423" width="1" height="1" fill="#f0f0f0"/>
<rect x="188" y="424" width="1" height="1" fill="#f0f0f0"/>
<rect x="188" y="425" width="1" height="1" fill="#f0f0f0"/>
<rect x="188" y="430" width="1" height="1" fill="#f0f0f0"/>
<rect x="189" y="421" width="1" height="1" fill="#f0f0f0"/>
<rect x="189" y="426" width="1" height="1" fill="#f0f0f0"/>
<rect x="189" y="427" width="1" height="1" fill="#f0f0f0"/>
<rect x="189" y="430" width="1" height="1" fill="#f0f0f0"/>
<rect x="189" y="433" width="1" height="1" fill="#f0f0f0"/>
<rect x="84.5" y="419.5" width="12.0" height="15.0" fill="#000" stroke="#f0f0f0" stroke-width="1"/>
<rect x="86" y="424" width="1" height="1" fill="#f0f0f0"/>
<rect x="86" y="425" width="1" height="1" fill="#f0f0f0"/>
<rect x="86" y="429" width="1" height="1" fill="#f0f0f0"/>
<rect x="86" y="432" width="1" height="1" fill="#f0f0f0"/>
<rect x="87" y="426" width="1" height="1" fill="#f0f0f0"/>
<rect x="87" y="427" width="1" height="1" fill="#f0f0f0"/>
<rect x="87" y="428" width="1" height="1" fill="#f0f0f0"/>
<rect x="87" y="430" width="1" height="1" fill="#f0f0f0"/>
<rect x="87" y="432" width="1" height="1" fill="#f0f0f0"/>
<rect x="88" y="421" width="1" height="1" fill="#f0f0f0"/>
<rect x="88" y="422" width="1" height="1" fill="#f0f0f0"/>
<rect x="88" y="424" width="1" height="1" fill="#f0f0f0"/>
<rect x="88" y="425" width="1" height="1" fill="#f0f0f0"/>
<rect x="88" y="428" width="1" height="1" fill="#f0f0f0"/>
<rect x="88" y="430" width="1" height="1" fill="#f0f0f0"/>
<rect x="88" y="432" width="1" height="1" fill="#f0f0f0"/>
<rect x="88" y="433" width="1" height="1" fill="#f0f0f0"/>
<rect x="89" y="425" width="1" height="1" fill="#f0f0f0"/>
<rect x="89" y="432" width="1" height="1" fill="#f0f0f0"/>
<rect x="89" y="433" width="1" height="1" fill="#f0f0f0"/>
<rect x="90" y="421" width="1" height="1" fill="#f0f0f0"/>
<rect x="90" y="422" width="1" height="1" fill="#f0f0f0"/>
<rect x="90" y="423" width="1" height="1" fill="#f0f0f0"/>
<rect x="90" y="424" width="1" height="1" fill="#f0f0f0"/>
<rect x="90" y="430" width="1" height="1" fill="#f0f0f0"/>
<rect x="90" y="432" width="1" height="1" fill="#f0f0f0"/>
<rect x="90" y="433" width="1" height="1" fill="#f0f0f0"/>
<rect x="91" y="422" width="1" height="1" fill="#f0f0f0"/>
<rect x="91" y="427" width="1" height="1" fill="#f0f0f0"/>
<rect x="91" y="429" width="1" height="1" fill="#f0f0f0"/>
<rect x="91" y="432" width="1" height="1" fill="#f0f0f0"/>
<rect x="91" y="433" width="1" height="1" fill="#f0f0f0"/>
<rect x="92" y="421" width="1" height="1" fill="#f0f0f0"/>
<rect x="92" y="422" width="1" height="1" fill="#f0f0f0"/>
<rect x="92" y="426" width="1" height="1" fill="#f0f0f0"/>
<rect x="92" y="431" width="1" height="1" fill="#f0f0f0"/>
<rect x="92" y="432" width="1" height="1" fill="#f0f0f0"/>
<rect x="93" y="423" width="1" height="1" fill="#f0f0f0"/>
<rect x="93" y="426" width="1" height="1" fill="#f0f0f0"/>
<rect x="93" y="427" width="1" height="1" fill="#f0f0f0"/>
<rect x="93" y="428" width="1" height="1" fill="#f0f0f0"/>
<rect x="93" y="429" width="1" height="1" fill="#f0f0f0"/>
<rect x="93" y="431" width="1" height="1" fill="#f0f0f0"/>
<rect x="93" y="432" width="1" height="1" fill="#f0f0f0"/>
<rect x="93" y="433" width="1" height="1" fill="#f0f0f0"/>
<rect x="94" y="422" width="1" height="1" fill="#f0f0f0"/>
<rect x="94" y="424" width="1" height="1" fill="#f0f0f0"/>
<rect x="94" y="425" width="1" height="1" fill="#f0f0f0"/>
<rect x="94" y="427" width="1" height="1" fill="#f0f0f0"/>
<rect x="94" y="431" width="1" height="1" fill="#f0f0f0"/>
<rect x="94" y="433" width="1" height="1" fill="#f0f0f0"/>
<rect x="95" y="425" width="1" height="1" fill="#f0f0f0"/>
<rect x="95" y="429" width="1" height="1" fill="#f0f0f0"/>
<rect x="95" y="430" width="1" height="1" fill="#f0f0f0"/>
<rect x="95" y="431" width="1" height="1" fill="#f0f0f0"/>
<rect x="344.5" y="422.5" width="11.0" height="15.0" fill="#000" stroke="#f0f0f0" stroke-width="1"/>
<rect x="346" y="424" width="1" height="1" fill="#f0f0f0"/>
<rect x="346" y="426" width="1" height="1" fill="#f0f0f0"/>
<rect x="346" y="427" width="1" height="1" fill="#f0f0f0"/>
<rect x="346" y="428" width="1" height="1" fill="#f0f0f0"/>
<rect x="346" y="429" width="1" height="1" fill="#f0f0f0"/>
<rect x="346" y="431" width="1" height="1" fill="#f0f0f0"/>
<rect x="346" y="432" width="1" height="1" fill="#f0f0f0"/>
<rect x="346" y="434" width="1" height="1" fill="#f0f0f0"/>
<rect x="346" y="436" width="1" height="1" fill="#f0f0f0"/>
<rect x="347" y="425" width="1" height="1" fill="#f0f0f0"/>
<rect x="347" y="428" width="1" height="1" fill="#f0f0f0"/>
<rect x="347" y="430" width="1" height="1" fill="#f0f0f0"/>
<rect x="347" y="431" width="1" height="1" fill="#f0f0f0"/>
<rect x="347" y="432" width="1" height="1" fill="#f0f0f0"/>
<rect x="347" y="433" width="1" height="1" fill="#f0f0f0"/>
<rect x="348" y="424" width="1" height="1" fill="#f0f0f0"/>
<rect x="348" y="425" width="1" height="1" fill="#f0f0f0"/>
<rect x="348" y="427" width="1" height="1" fill="#f0f0f0"/>
<rect x="348" y="429" width="1" height="1" fill="#f0f0f0"/>
<rect x="348" y="431" width="1" height="1" fill="#f0f0f0"/>
<rect x="348" y="433" width="1" height="1" fill="#f0f0f0"/>
<rect x="348" y="434" width="1" height="1" fill="#f0f0f0"/>
<rect x="348" y="435" width="1" height="1" fill="#f0f0f0"/>
<rect x="349" y="425" width="1" height="1" fill="#f0f0f0"/>
<rect x="349" y="428" width="1" height="1" fill="#f0f0f0"/>
<rect x="349" y="430" width="1" height="1" fill="#f0f0f0"/>
<rect x="349" y="431" width="1" height="1" fill="#f0f0f0"/>
<rect x="349" y="434" width="1" height="1" fill="#f0f0f0"/>
<rect x="349" y="435" width="1" height="1" fill="#f0f0f0"/>
<rect x="349" y="436" width="1" height="1" fill="#f0f0f0"/>
<rect x="350" y="426" width="1" height="1" fill="#f0f0f0"/>
<rect x="350" y="427" width="1" height="1" fill="#f0f0f0"/>
<rect x="350" y="432" width="1" height="1" fill="#f0f0f0"/>
<rect x="350" y="433" width="1" height="1" fill="#f0f0f0"/>
<rect x="350" y="435" width="1" height="1" fill="#f0f0f0"/>
<rect x="351" y="424" width="1" height="1" fill="#f0f0f0"/>
<rect x="351" y="426" width="1" height="1" fill="#f0f0f0"/>
<rect x="351" y="430" width="1" height="1" fill="#f0f0f0"/>
<rect x="351" y="434" width="1" height="1" fill="#f0f0f0"/>
<rect x="351" y="435" width="1" height="1" fill="#f0f0f0"/>
<rect x="352" y="424" width="1" height="1" fill="#f0f0f0"/>
<rect x="352" y="425" width="1" height="1" fill="#f0f0f0"/>
<rect x="352" y="426" width="1" height="1" fill="#f0f0f0"/>
<rect x="352" y="428" width="1" height="1" fill="#f0f0f0"/>
<rect x="352" y="432" width="1" height="1" fill="#f0f0f0"/>
<rect x="352" y="436" width="1" height="1" fill="#f0f0f0"/>
<rect x="353" y="425" width="1" height="1" fill="#f0f0f0"/>
<rect x="353" y="427" width="1" height="1" fill="#f0f0f0"/>
<rect x="353" y="434" width="1" height="1" fill="#f0f0f0"/>
<rect x="353" y="436" width="1" height="1" fill="#f0f0f0"/>
<rect x="354" y="424" width="1" height="1" fill="#f0f0f0"/>
<rect x="354" y="425" width="1" height="1" fill="#f0f0f0"/>
<rect x="354" y="426" width="1" height="1" fill="#f0f0f0"/>
<rect x="354" y="428" width="1" height="1" fill="#f0f0f0"/>
<rect x="354" y="429" width="1" height="1" fill="#f0f0f0"/>
<rect x="354" y="431" width="1" height="1" fill="#f0f0f0"/>
<rect x="354" y="432" width="1" height="1" fill="#f0f0f0"/>
<rect x="516.5" y="421.5" width="11.0" height="16.0" fill="#000" stroke="#f0f0f0" stroke-width="1"/>
<rect x="518" y="423" width="1" height="1" fill="#f0f0f0"/>
<rect x="518" y="426" width="1" height="1" fill="#f0f0f0"/>
<rect x="518" y="427" width="1" height="1" fill="#f0f0f0"/>
<rect x="518" y="430" width="1" height="1" fill="#f0f0f0"/>
<rect x="518" y="431" width="1" height="1" fill="#f0f0f0"/>
<rect x="518" y="432" width="1" height="1" fill="#f0f0f0"/>
<rect x="518" y="433" width="1" height="1" fill="#f0f0f0"/>
<rect x="518" y="436" width="1" height="1" fill="#f0f0f0"/>
<rect x="519" y="425" width="1" height="1" fill="#f0f0f0"/>
<rect x="519" y="428" width="1" height="1" fill="#f0f0f0"/>
<rect x="519" y="432" width="1" height="1" fill="#f0f0f0"/>
<rect x="519" y="435" width="1" height="1" fill="#f0f0f0"/>
<rect x="519" y="436" width="1" height="1" fill="#f0f0f0"/>
<rect x="520" y="423" width="1" height="1" fill="#f0f0f0"/>
<rect x="520" y="430" width="1" height="1" fill="#f0f0f0"/>
<rect x="520" y="434" width="1" height="1" fill="#f0f0f0"/>
<rect x="521" y="423" width="1" height="1" fill="#f0f0f0"/>
<rect x="521" y="425" width="1" height="1" fill="#f0f0f0"/>
<rect x="521" y="428" width="1" height="1" fill="#f0f0f0"/>
<rect x="521" y="429" width="1" height="1" fill="#f0f0f0"/>
<rect x="522" y="423" width="1" height="1" fill="#f0f0f0"/>
<rect x="522" y="425" width="1" height="1" fill="#f0f0f0"/>
<rect x="522" y="427" width="1" height="1" fill="#f0f0f0"/>
<rect x="522" y="431" width="1" height="1" fill="#f0f0f0"/>
<rect x="522" y="435" width="1" height="1" fill="#f0f0f0"/>
<rect x="522" y="436" width="1" height="1" fill="#f0f0f0"/>
<rect x="523" y="424" width="1" height="1" fill="#f0f0f0"/>
<rect x="523" y="428" width="1" height="1" fill="#f0f0f0"/>
<rect x="523" y="431" width="1" height="1" fill="#f0f0f0"/>
<rect x="523" y="432" width="1" height="1" fill="#f0f0f0"/>
<rect x="523" y="433" width="1" height="1" fill="#f0f0f0"/>
<rect x="523" y="434" width="1" height="1" fill="#f0f0f0"/>
<rect x="523" y="435" width="1" height="1" fill="#f0f0f0"/>
<rect x="523" y="436" width="1" height="1" fill="#f0f0f0"/>
<rect x="524" y="423" width="1" height="1" fill="#f0f0f0"/>
<rect x="524" y="424" width="1" height="1" fill="#f0f0f0"/>
<rect x="524" y="430" width="1" height="1" fill="#f0f0f0"/>
<rect x="524" y="436" width="1" height="1" fill="#f0f0f0"/>
<rect x="525" y="423" width="1" height="1" fill="#f0f0f0"/>
<rect x="525" y="424" width="1" height="1" fill="#f0f0f0"/>
<rect x="525" y="426" width="1" height="1" fill="#f0f0f0"/>
<rect x="525" y="428" width="1" height="1" fill="#f0f0f0"/>
<rect x="525" y="429" width="1" height="1" fill="#f0f0f0"/>
<rect x="525" y="431" width="1" height="1" fill="#f0f0f0"/>
<rect x="525" y="434" width="1" height="1" fill="#f0f0f0"/>
<rect x="525" y="436" width="1" height="1" fill="#f0f0f0"/>
<rect x="526" y="424" width="1" height="1" fill="#f0f0f0"/>
<rect x="526" y="425" width="1" height="1" fill="#f0f0f0"/>
<rect x="526" y="428" width="1" height="1" fill="#f0f0f0"/>
<rect x="526" y="429" width="1" height="1" fill="#f0f0f0"/>
<rect x="526" y="432" width="1" height="1" fill="#f0f0f0"/>
<rect x="526" y="433" width="1" height="1" fill="#f0f0f0"/>
<rect x="526" y="436" width="1" height="1" fill="#f0f0f0"/>
<rect x="84.5" y="531.5" width="12.0" height="16.0" fill="#000" stroke="#f0f0f0" stroke-width="1"/>
<rect x="86" y="533" width="1" height="1" fill="#f0f0f0"/>
<rect x="86" y="534" width="1" height="1" fill="#f0f0f0"/>
<rect x="87" y="533" width="1" height="1" fill="#f0f0f0"/>
<rect x="87" y="535" width="1" height="1" fill="#f0f0f0"/>
<rect x="87" y="541" width="1" height="1" fill="#f0f0f0"/>
<rect x="87" y="545" width="1" height="1" fill="#f0f0f0"/>
<rect x="88" y="535" width="1" height="1" fill="#f0f0f0"/>
<rect x="88" y="536" width="1" height="1" fill="#f0f0f0"/>
<rect x="88" y="538" width="1" height="1" fill="#f0f0f0"/>
<rect x="88" y="539" width="1" height="1" fill="#f0f0f0"/>
<rect x="88" y="544" width="1" height="1" fill="#f0f0f0"/>
<rect x="88" y="545" width="1" height="1" fill="#f0f0f0"/>
<rect x="88" y="546" width="1" height="1" fill="#f0f0f0"/>
<rect x="89" y="535" width="1" height="1" fill="#f0f0f0"/>
<rect x="89" y="537" width="1" height="1" fill="#f0f0f0"/>
<rect x="89" y="541" width="1" height="1" fill="#f0f0f0"/>
<rect x="89" y="544" width="1" height="1" fill="#f0f0f0"/>
<rect x="89" y="545" width="1" height="1" fill="#f0f0f0"/>
<rect x="90" y="541" width="1" height="1" fill="#f0f0f0"/>
<rect x="90" y="542" width="1" height="1" fill="#f0f0f0"/>
<rect x="90" y="544" width="1" height="1" fill="#f0f0f0"/>
<rect x="91" y="534" width="1" height="1" fill="#f0f0f0"/>
<rect x="91" y="535" width="1" height="1" fill="#f0f0f0"/>
<rect x="91" y="536" width="1" height="1" fill="#f0f0f0"/>
<rect x="91" y="545" width="1" height="1" fill="#f0f0f0"/>
<rect x="92" y="534" width="1" height="1" fill="#f0f0f0"/>
<rect x="92" y="535" width="1" height="1" fill="#f0f0f0"/>
<rect x="92" y="539" width="1" height="1" fill="#f0f0f0"/>
<rect x="92" y="546" width="1" height="1" fill="#f0f0f0"/>
<rect x="93" y="533" width="1" height="1" fill="#f0f0f0"/>
<rect x="93" y="536" width="1" height="1" fill="#f0f0f0"/>
<rect x="93" y="537" width="1" height="1" fill="#f0f0f0"/>
<rect x="93" y="540" width="1" height="1" fill="#f0f0f0"/>
<rect x="93" y="543" width="1" height="1" fill="#f0f0f0"/>
<rect x="93" y="544" width="1" height="1" fill="#f0f0f0"/>
<rect x="93" y="546" width="1" height="1" fill="#f0f0f0"/>
<rect x="94" y="534" width="1" height="1" fill="#f0f0f0"/>
<rect x="94" y="535" width="1" height="1" fill="#f0f0f0"/>
<rect x="94" y="539" width="1" height="1" fill="#f0f0f0"/>
<rect x="94" y="542" width="1" height="1" fill="#f0f0f0"/>
<rect x="95" y="533" width="1" height="1" fill="#f0f0f0"/>
<rect x="95" y="534" width="1" height="1" fill="#f0f0f0"/>
<rect x="95" y="535" width="1" height="1" fill="#f0f0f0"/>
<rect x="95" y="537" width="1" height="1" fill="#f0f0f0"/>
<rect x="95" y="538" width="1" height="1" fill="#f0f0f0"/>
<rect x="95" y="539" width="1" height="1" fill="#f0f0f0"/>
<rect x="95" y="544" width="1" height="1" fill="#f0f0f0"/>
<rect x="95" y="545" width="1" height="1" fill="#f0f0f0"/>
<rect x="219.5" y="530.5" width="12.0" height="15.0" fill="#000" stroke="#f0f0f0" stroke-width="1"/>
<rect x="221" y="532" width="1" height="1" fill="#f0f0f0"/>
<rect x="221" y="534" width="1" height="1" fill="#f0f0f0"/>
<rect x="221" y="535" width="1" height="1" fill="#f0f0f0"/>
<rect x="221" y="536" width="1" height="1" fill="#f0f0f0"/>
<rect x="221" y="537" width="1" height="1" fill="#f0f0f0"/>
<rect x="221" y="540" width="1" height="1" fill="#f0f0f0"/>
<rect x="221" y="542" width="1" height="1" fill="#f0f0f0"/>
<rect x="221" y="543" width="1" height="1" fill="#f0f0f0"/>
<rect x="222" y="536" width="1" height="1" fill="#f0f0f0"/>
<rect x="222" y="537" width="1" height="1" fill="#f0f0f0"/>
<rect x="222" y="540" width="1" height="1" fill="#f0f0f0"/>
<rect x="222" y="543" width="1" height="1" fill="#f0f0f0"/>
<rect x="223" y="535" width="1" height="1" fill="#f0f0f0"/>
<rect x="223" y="536" width="1" height="1" fill="#f0f0f0"/>
<rect x="223" y="538" width="1" height="1" fill="#f0f0f0"/>
<rect x="223" y="539" width="1" height="1" fill="#f0f0f0"/>
<rect x="223" y="543" width="1" height="1" fill="#f0f0f0"/>
<rect x="223" y="544" width="1" height="1" fill="#f0f0f0"/>
<rect x="224" y="532" width="1" height="1" fill="#f0f0f0"/>
<rect x="224" y="533" width="1" height="1" fill="#f0f0f0"/>
<rect x="224" y="535" width="1" height="1" fill="#f0f0f0"/>
<rect x="224" y="537" width="1" height="1" fill="#f0f0f0"/>
<rect x="224" y="539" width="1" height="1" fill="#f0f0f0"/>
<rect x="224" y="540" width="1" height="1" fill="#f0f0f0"/>
<rect x="224" y="541" width="1" height="1" fill="#f0f0f0"/>
<rect x="224" y="542" width="1" height="1" fill="#f0f0f0"/>
<rect x="224" y="544" width="1" height="1" fill="#f0f0f0"/>
<rect x="225" y="532" width="1" height="1" fill="#f0f0f0"/>
<rect x="225" y="533" width="1" height="1" fill="#f0f0f0"/>
<rect x="225" y="534" width="1" height="1" fill="#f0f0f0"/>
<rect x="225" y="535" width="1" height="1" fill="#f0f0f0"/>
<rect x="225" y="536" width="1" height="1" fill="#f0f0f0"/>
<rect x="225" y="538" width="1" height="1" fill="#f0f0f0"/>
<rect x="225" y="539" width="1" height="1" fill="#f0f0f0"/>
<rect x="225" y="541" width="1" height="1" fill="#f0f0f0"/>
<rect x="225" y="542" width="1" height="1" fill="#f0f0f0"/>
<rect x="225" y="544" width="1" height="1" fill="#f0f0f0"/>
<rect x="226" y="535" width="1" height="1" fill="#f0f0f0"/>
<rect x="226" y="536" width="1" height="1" fill="#f0f0f0"/>
<rect x="226" y="538" width="1" height="1" fill="#f0f0f0"/>
<rect x="226" y="540" width="1" height="1" fill="#f0f0f0"/>
<rect x="226" y="543" width="1" height="1" fill="#f0f0f0"/>
<rect x="227" y="532" width="1" height="1" fill="#f0f0f0"/>
<rect x="227" y="534" width="1" height="1" fill="#f0f0f0"/>
<rect x="227" y="537" width="1" height="1" fill="#f0f0f0"/>
<rect x="227" y="538" width="1" height="1" fill="#f0f0f0"/>
<rect x="227" y="540" width="1" height="1" fill="#f0f0f0"/>
<rect x="227" y="542" width="1" height="1" fill="#f0f0f0"/>
<rect x="228" y="532" width="1" height="1" fill="#f0f0f0"/>
<rect x="228" y="534" width="1" height="1" fill="#f0f0f0"/>
<rect x="228" y="537" width="1" height="1" fill="#f0f0f0"/>
<rect x="228" y="538" width="1" height="1" fill="#f0f0f0"/>
<rect x="228" y="539" width="1" height="1" fill="#f0f0f0"/>
<rect x="228" y="540" width="1" height="1" fill="#f0f0f0"/>
<rect x="228" y="542" width="1" height="1" fill="#f0f0f0"/>
<rect x="228" y="544" width="1" height="1" fill="#f0f0f0"/>
<rect x="229" y="533" width="1" height="1" fill="#f0f0f0"/>
<rect x="229" y="535" width="1" height="1" fill="#f0f0f0"/>
<rect x="229" y="536" width="1" height="1" fill="#f0f0f0"/>
<rect x="229" y="537" width="1" height="1" fill="#f0f0f0"/>
<rect x="229" y="538" width="1" height="1" fill="#f0f0f0"/>
<rect x="229" y="539" width="1" height="1" fill="#f0f0f0"/>
<rect x="229" y="541" width="1" height="1" fill="#f0f0f0"/>
<rect x="229" y="542" width="1" height="1" fill="#f0f0f0"/>
<rect x="230" y="534" width="1" height="1" fill="#f0f0f0"/>
<rect x="230" y="535" width="1" height="1" fill="#f0f0f0"/>
<rect x="230" y="536" width="1" height="1" fill="#f0f0f0"/>
<rect x="230" y="539" width="1" height="1" fill="#f0f0f0"/>
<rect x="230" y="540" width="1" height="1" fill="#f0f0f0"/>
<rect x="230" y="543" width="1" height="1" fill="#f0f0f0"/>
<rect x="344.5" y="530.5" width="11.0" height="16.0" fill="#000" stroke="#f0f0f0" stroke-width="1"/>
<rect x="346" y="532" width="1" height="1" fill="#f0f0f0"/>
<rect x="346" y="534" width="1" height="1" fill="#f0f0f0"/>
<rect x="346" y="535" width="1" height="1" fill="#f0f0f0"/>
<rect x="346" y="539" width="1" height="1" fill="#f0f0f0"/>
<rect x="346" y="540" width="1" height="1" fill="#f0f0f0"/>
<rect x="346" y="541" width="1" height="1" fill="#f0f0f0"/>
<rect x="346" y="542" width="1" height="1" fill="#f0f0f0"/>
<rect x="346" y="543" width="1" height="1" fill="#f0f0f0"/>
<rect x="346" y="544" width="1" height="1" fill="#f0f0f0"/>
<rect x="346" y="545" width="1" height="1" fill="#f0f0f0"/>
<rect x="347" y="532" width="1" height="1" fill="#f0f0f0"/>
<rect x="347" y="534" width="1" height="1" fill="#f0f0f0"/>
<rect x="347" y="538" width="1" height="1" fill="#f0f0f0"/>
<rect x="347" y="541" width="1" height="1" fill="#f0f0f0"/>
<rect x="347" y="542" width="1" height="1" fill="#f0f0f0"/>
<rect x="347" y="545" width="1" height="1" fill="#f0f0f0"/>
<rect x="348" y="532" width="1" height="1" fill="#f0f0f0"/>
<rect x="348" y="535" width="1" height="1" fill="#f0f0f0"/>
<rect x="348" y="536" width="1" height="1" fill="#f0f0f0"/>
<rect x="348" y="537" width="1" height="1" fill="#f0f0f0"/>
<rect x="348" y="539" width="1" height="1" fill="#f0f0f0"/>
<rect x="348" y="542" width="1" height="1" fill="#f0f0f0"/>
<rect x="348" y="544" width="1" height="1" fill="#f0f0f0"/>
<rect x="349" y="533" width="1" height="1" fill="#f0f0f0"/>
<rect x="349" y="534" width="1" height="1" fill="#f0f0f0"/>
<rect x="349" y="543" width="1" height="1" fill="#f0f0f0"/>
<rect x="350" y="534" width="1" height="1" fill="#f0f0f0"/>
<rect x="350" y="536" width="1" height="1" fill="#f0f0f0"/>
<rect x="350" y="539" width="1" height="1" fill="#f0f0f0"/>
<rect x="350" y="544" width="1" height="1" fill="#f0f0f0"/>
<rect x="350" y="545" width="1" height="1" fill="#f0f0f0"/>
<rect x="351" y="532" width="1" height="1" fill="#f0f0f0"/>
<rect x="351" y="533" width="1" height="1" fill="#f0f0f0"/>
<rect x="351" y="534" width="1" height="1" fill="#f0f0f0"/>
<rect x="351" y="535" width="1" height="1" fill="#f0f0f0"/>
<rect x="351" y="536" width="1" height="1" fill="#f0f0f0"/>
<rect x="351" y="539" width="1" height="1" fill="#f0f0f0"/>
<rect x="351" y="540" width="1" height="1" fill="#f0f0f0"/>
<rect x="351" y="544" width="1" height="1" fill="#f0f0f0"/>
<rect x="351" y="545" width="1" height="1" fill="#f0f0f0"/>
<rect x="352" y="533" width="1" height="1" fill="#f0f0f0"/>
<rect x="352" y="535" width="1" height="1" fill="#f0f0f0"/>
<rect x="352" y="539" width="1" height="1" fill="#f0f0f0"/>
<rect x="352" y="545" width="1" height="1" fill="#f0f0f0"/>
<rect x="353" y="532" width="1" height="1" fill="#f0f0f0"/>
<rect x="353" y="533" width="1" height="1" fill="#f0f0f0"/>
<rect x="353" y="534" width="1" height="1" fill="#f0f0f0"/>
<rect x="353" y="535" width="1" height="1" fill="#f0f0f0"/>
<rect x="353" y="536" width="1" height="1" fill="#f0f0f0"/>
<rect x="353" y="537" width="1" height="1" fill="#f0f0f0"/>
<rect x="353" y="540" width="1" height="1" fill="#f0f0f0"/>
<rect x="353" y="541" width="1" height="1" fill="#f0f0f0"/>
<rect x="353" y="543" width="1" height="1" fill="#f0f0f0"/>
<rect x="353" y="544" width="1" height="1" fill="#f0f0f0"/>
<rect x="353" y="545" width="1" height="1" fill="#f0f0f0"/>
<rect x="354" y="532" width="1" height="1" fill="#f0f0f0"/>
<rect x="354" y="535" width="1" height="1" fill="#f0f0f0"/>
<rect x="354" y="539" width="1" height="1" fill="#f0f0f0"/>
<rect x="354" y="542" width="1" height="1" fill="#f0f0f0"/>
<rect x="354" y="544" width="1" height="1" fill="#f0f0f0"/>
<rect x="516.5" y="560.5" width="11.0" height="15.0" fill="#000" stroke="#f0f0f0" stroke-width="1"/>
<rect x="518" y="566" width="1" height="1" fill="#f0f0f0"/>
<rect x="518" y="567" width="1" height="1" fill="#f0f0f0"/>
<rect x="518" y="568" width="1" height="1" fill="#f0f0f0"/>
<rect x="518" y="569" width="1" height="1" fill="#f0f0f0"/>
<rect x="518" y="572" width="1" height="1" fill="#f0f0f0"/>
<rect x="518" y="573" width="1" height="1" fill="#f0f0f0"/>
<rect x="519" y="564" width="1" height="1" fill="#f0f0f0"/>
<rect x="519" y="568" width="1" height="1" fill="#f0f0f0"/>
<rect x="519" y="569" width="1" height="1" fill="#f0f0f0"/>
<rect x="519" y="571" width="1" height="1" fill="#f0f0f0"/>
<rect x="519" y="572" width="1" height="1" fill="#f0f0f0"/>
<rect x="519" y="574" width="1" height="1" fill="#f0f0f0"/>
<rect x="520" y="563" width="1" height="1" fill="#f0f0f0"/>
<rect x="520" y="564" width="1" height="1" fill="#f0f0f0"/>
<rect x="520" y="573" width="1" height="1" fill="#f0f0f0"/>
<rect x="520" y="574" width="1" height="1" fill="#f0f0f0"/>
<rect x="521" y="563" width="1" height="1" fill="#f0f0f0"/>
<rect x="521" y="565" width="1" height="1" fill="#f0f0f0"/>
<rect x="521" y="568" width="1" height="1" fill="#f0f0f0"/>
<rect x="521" y="569" width="1" height="1" fill="#f0f0f0"/>
<rect x="521" y="571" width="1" height="1" fill="#f0f0f0"/>
<rect x="521" y="573" width="1" height="1" fill="#f0f0f0"/>
<rect x="522" y="565" width="1" height="1" fill="#f0f0f0"/>
<rect x="522" y="569" width="1" height="1" fill="#f0f0f0"/>
<rect x="522" y="574" width="1" height="1" fill="#f0f0f0"/>
<rect x="523" y="562" width="1" height="1" fill="#f0f0f0"/>
<rect x="523" y="565" width="1" height="1" fill="#f0f0f0"/>
<rect x="523" y="566" width="1" height="1" fill="#f0f0f0"/>
<rect x="523" y="567" width="1" height="1" fill="#f0f0f0"/>
<rect x="523" y="568" width="1" height="1" fill="#f0f0f0"/>
<rect x="524" y="564" width="1" height="1" fill="#f0f0f0"/>
<rect x="524" y="567" width="1" height="1" fill="#f0f0f0"/>
<rect x="524" y="572" width="1" height="1" fill="#f0f0f0"/>
<rect x="524" y="573" width="1" height="1" fill="#f0f0f0"/>
<rect x="525" y="562" width="1" height="1" fill="#f0f0f0"/>
<rect x="525" y="563" width="1" height="1" fill="#f0f0f0"/>
<rect x="525" y="566" width="1" height="1" fill="#f0f0f0"/>
<rect x="525" y="568" width="1" height="1" fill="#f0f0f0"/>
<rect x="525" y="570" width="1" height="1" fill="#f0f0f0"/>
<rect x="525" y="573" width="1" height="1" fill="#f0f0f0"/>
<rect x="525" y="574" width="1" height="1" fill="#f0f0f0"/>
<rect x="526" y="562" width="1" height="1" fill="#f0f0f0"/>
<rect x="526" y="565" width="1" height="1" fill="#f0f0f0"/>
<rect x="526" y="567" width="1" height="1" fill="#f0f0f0"/>
<rect x="526" y="568" width="1" height="1" fill="#f0f0f0"/>
<rect x="526" y="570" width="1" height="1" fill="#f0f0f0"/>
<rect x="526" y="573" width="1" height="1" fill="#f0f0f0"/>
<rect x="84.5" y="683.5" width="12.0" height="15.0" fill="#000" stroke="#f0f0f0" stroke-width="1"/>
<rect x="86" y="685" width="1" height="1" fill="#f0f0f0"/>
<rect x="86" y="688" width="1" height="1" fill="#f0f0f0"/>
<rect x="86" y="689" width="1" height="1" fill="#f0f0f0"/>
<rect x="86" y="690" width="1" height="1" fill="#f0f0f0"/>
<rect x="86" y="696" width="1" height="1" fill="#f0f0f0"/>
<rect x="87" y="686" width="1" height="1" fill="#f0f0f0"/>
<rect x="87" y="688" width="1" height="1" fill="#f0f0f0"/>
<rect x="87" y="689" width="1" height="1" fill="#f0f0f0"/>
<rect x="87" y="693" width="1" height="1" fill="#f0f0f0"/>
<rect x="87" y="695" width="1" height="1" fill="#f0f0f0"/>
<rect x="87" y="696" width="1" height="1" fill="#f0f0f0"/>
<rect x="87" y="697" width="1" height="1" fill="#f0f0f0"/>
<rect x="88" y="685" width="1" height="1" fill="#f0f0f0"/>
<rect x="88" y="687" width="1" height="1" fill="#f0f0f0"/>
<rect x="88" y="688" width="1" height="1" fill="#f0f0f0"/>
<rect x="88" y="697" width="1" height="1" fill="#f0f0f0"/>
<rect x="89" y="686" width="1" height="1" fill="#f0f0f0"/>
<rect x="89" y="690" width="1" height="1" fill="#f0f0f0"/>
<rect x="89" y="691" width="1" height="1" fill="#f0f0f0"/>
<rect x="89" y="695" width="1" height="1" fill="#f0f0f0"/>
<rect x="89" y="697" width="1" height="1" fill="#f0f0f0"/>
<rect x="90" y="687" width="1" height="1" fill="#f0f0f0"/>
<rect x="90" y="690" width="1" height="1" fill="#f0f0f0"/>
<rect x="90" y="691" width="1" height="1" fill="#f0f0f0"/>
<rect x="90" y="695" width="1" height="1" fill="#f0f0f0"/>
<rect x="90" y="696" width="1" height="1" fill="#f0f0f0"/>
<rect x="90" y="697" width="1" height="1" fill="#f0f0f0"/>
<rect x="91" y="686" width="1" height="1" fill="#f0f0f0"/>
<rect x="91" y="688" width="1" height="1" fill="#f0f0f0"/>
<rect x="91" y="690" width="1" height="1" fill="#f0f0f0"/>
<rect x="91" y="691" width="1" height="1" fill="#f0f0f0"/>
<rect x="91" y="697" width="1" height="1" fill="#f0f0f0"/>
<rect x="92" y="685" width="1" height="1" fill="#f0f0f0"/>
<rect x="92" y="686" width="1" height="1" fill="#f0f0f0"/>
<rect x="92" y="690" width="1" height="1" fill="#f0f0f0"/>
<rect x="92" y="691" width="1" height="1" fill="#f0f0f0"/>
<rect x="92" y="694" width="1" height="1" fill="#f0f0f0"/>
<rect x="92" y="696" width="1" height="1" fill="#f0f0f0"/>
<rect x="93" y="685" width="1" height="1" fill="#f0f0f0"/>
<rect x="93" y="688" width="1" height="1" fill="#f0f0f0"/>
<rect x="93" y="689" width="1" height="1" fill="#f0f0f0"/>
<rect x="93" y="690" width="1" height="1" fill="#f0f0f0"/>
<rect x="93" y="693" width="1" height="1" fill="#f0f0f0"/>
<rect x="93" y="694" width="1" height="1" fill="#f0f0f0"/>
<rect x="93" y="695" width="1" height="1" fill="#f0f0f0"/>
<rect x="94" y="685" width="1" height="1" fill="#f0f0f0"/>
<rect x="94" y="686" width="1" height="1" fill="#f0f0f0"/>
<rect x="94" y="687" width="1" height="1" fill="#f0f0f0"/>
<rect x="94" y="689" width="1" height="1" fill="#f0f0f0"/>
<rect x="94" y="690" width="1" height="1" fill="#f0f0f0"/>
<rect x="94" y="693" width="1" height="1" fill="#f0f0f0"/>
<rect x="94" y="694" width="1" height="1" fill="#f0f0f0"/>
<rect x="94" y="696" width="1" height="1" fill="#f0f0f0"/>
<rect x="94" y="697" width="1" height="1" fill="#f0f0f0"/>
<rect x="95" y="686" width="1" height="1" fill="#f0f0f0"/>
<rect x="95" y="691" width="1" height="1" fill="#f0f0f0"/>
<rect x="213.5" y="685.5" width="15.0" height="12.0" fill="#000" stroke="#f0f0f0" stroke-width="1"/>
<rect x="215" y="687" width="1" height="1" fill="#f0f0f0"/>
<rect x="215" y="688" width="1" height="1" fill="#f0f0f0"/>
<rect x="215" y="693" width="1" height="1" fill="#f0f0f0"/>
<rect x="216" y="688" width="1" height="1" fill="#f0f0f0"/>
<rect x="216" y="690" width="1" height="1" fill="#f0f0f0"/>
<rect x="216" y="691" width="1" height="1" fill="#f0f0f0"/>
<rect x="216" y="692" width="1" height="1" fill="#f0f0f0"/>
<rect x="216" y="693" width="1" height="1" fill="#f0f0f0"/>
<rect x="216" y="696" width="1" height="1" fill="#f0f0f0"/>
<rect x="217" y="687" width="1" height="1" fill="#f0f0f0"/>
<rect x="217" y="688" width="1" height="1" fill="#f0f0f0"/>
<rect x="217" y="689" width="1" height="1" fill="#f0f0f0"/>
<rect x="217" y="690" width="1" height="1" fill="#f0f0f0"/>
<rect x="217" y="691" width="1" height="1" fill="#f0f0f0"/>
<rect x="217" y="696" width="1" height="1" fill="#f0f0f0"/>
<rect x="218" y="687" width="1" height="1" fill="#f0f0f0"/>
<rect x="218" y="688" width="1" height="1" fill="#f0f0f0"/>
<rect x="218" y="689" width="1" height="1" fill="#f0f0f0"/>
<rect x="218" y="690" width="1" height="1" fill="#f0f0f0"/>
<rect x="218" y="694" width="1" height="1" fill="#f0f0f0"/>
<rect x="219" y="687" width="1" height="1" fill="#f0f0f0"/>
<rect x="219" y="688" width="1" height="1" fill="#f0f0f0"/>
<rect x="219" y="691" width="1" height="1" fill="#f0f0f0"/>
<rect x="219" y="695" width="1" height="1" fill="#f0f0f0"/>
<rect x="220" y="688" width="1" height="1" fill="#f0f0f0"/>
<rect x="220" y="689" width="1" height="1" fill="#f0f0f0"/>
<rect x="220" y="690" width="1" height="1" fill="#f0f0f0"/>
<rect x="220" y="691" width="1" height="1" fill="#f0f0f0"/>
<rect x="220" y="692" width="1" height="1" fill="#f0f0f0"/>
<rect x="220" y="694" width="1" height="1" fill="#f0f0f0"/>
<rect x="220" y="695" width="1" height="1" fill="#f0f0f0"/>
<rect x="220" y="696" width="1" height="1" fill="#f0f0f0"/>
<rect x="221" y="690" width="1" height="1" fill="#f0f0f0"/>
<rect x="221" y="694" width="1" height="1" fill="#f0f0f0"/>
<rect x="222" y="687" width="1" height="1" fill="#f0f0f0"/>
<rect x="222" y="688" width="1" height="1" fill="#f0f0f0"/>
<rect x="222" y="689" width="1" height="1" fill="#f0f0f0"/>
<rect x="222" y="694" width="1" height="1" fill="#f0f0f0"/>
<rect x="222" y="695" width="1" height="1" fill="#f0f0f0"/>
<rect x="223" y="688" width="1" height="1" fill="#f0f0f0"/>
<rect x="223" y="690" width="1" height="1" fill="#f0f0f0"/>
<rect x="223" y="691" width="1" height="1" fill="#f0f0f0"/>
<rect x="223" y="692" width="1" height="1" fill="#f0f0f0"/>
<rect x="223" y="693" width="1" height="1" fill="#f0f0f0"/>
<rect x="223" y="695" width="1" height="1" fill="#f0f0f0"/>
<rect x="224" y="688" width="1" height="1" fill="#f0f0f0"/>
<rect x="224" y="690" width="1" height="1" fill="#f0f0f0"/>
<rect x="224" y="694" width="1" height="1" fill="#f0f0f0"/>
<rect x="225" y="687" width="1" height="1" fill="#f0f0f0"/>
<rect x="225" y="688" width="1" height="1" fill="#f0f0f0"/>
<rect x="225" y="689" width="1" height="1" fill="#f0f0f0"/>
<rect x="225" y="690" width="1" height="1" fill="#f0f0f0"/>
<rect x="225" y="692" width="1" height="1" fill="#f0f0f0"/>
<rect x="226" y="690" width="1" height="1" fill="#f0f0f0"/>
<rect x="226" y="692" width="1" height="1" fill="#f0f0f0"/>
<rect x="226" y="696" width="1" height="1" fill="#f0f0f0"/>
<rect x="227" y="690" width="1" height="1" fill="#f0f0f0"/>
<rect x="227" y="693" width="1" height="1" fill="#f0f0f0"/>
<rect x="227" y="694" width="1" height="1" fill="#f0f0f0"/>
<rect x="345.5" y="682.5" width="10.0" height="15.0" fill="#000" stroke="#f0f0f0" stroke-width="1"/>
<rect x="347" y="685" width="1" height="1" fill="#f0f0f0"/>
<rect x="347" y="687" width="1" height="1" fill="#f0f0f0"/>
<rect x="347" y="689" width="1" height="1" fill="#f0f0f0"/>
<rect x="347" y="690" width="1" height="1" fill="#f0f0f0"/>
<rect x="347" y="691" width="1" height="1" fill="#f0f0f0"/>
<rect x="347" y="692" width="1" height="1" fill="#f0f0f0"/>
<rect x="347" y="695" width="1" height="1" fill="#f0f0f0"/>
<rect x="348" y="684" width="1" height="1" fill="#f0f0f0"/>
<rect x="348" y="685" width="1" height="1" fill="#f0f0f0"/>
<rect x="348" y="686" width="1" height="1" fill="#f0f0f0"/>
<rect x="348" y="689" width="1" height="1" fill="#f0f0f0"/>
<rect x="348" y="690" width="1" height="1" fill="#f0f0f0"/>
<rect x="348" y="692" width="1" height="1" fill="#f0f0f0"/>
<rect x="348" y="696" width="1" height="1" fill="#f0f0f0"/>
<rect x="349" y="686" width="1" height="1" fill="#f0f0f0"/>
<rect x="349" y="688" width="1" height="1" fill="#f0f0f0"/>
<rect x="349" y="690" width="1" height="1" fill="#f0f0f0"/>
<rect x="349" y="692" width="1" height="1" fill="#f0f0f0"/>
<rect x="349" y="694" width="1" height="1" fill="#f0f0f0"/>
<rect x="349" y="696" width="1" height="1" fill="#f0f0f0"/>
<rect x="350" y="687" width="1" height="1" fill="#f0f0f0"/>
<rect x="350" y="688" width="1" height="1" fill="#f0f0f0"/>
<rect x="350" y="689" width="1" height="1" fill="#f0f0f0"/>
<rect x="350" y="691" width="1" height="1" fill="#f0f0f0"/>
<rect x="350" y="692" width="1" height="1" fill="#f0f0f0"/>
<rect x="350" y="695" width="1" height="1" fill="#f0f0f0"/>
<rect x="351" y="684" width="1" height="1" fill="#f0f0f0"/>
<rect x="351" y="686" width="1" height="1" fill="#f0f0f0"/>
<rect x="351" y="689" width="1" height="1" fill="#f0f0f0"/>
<rect x="351" y="692" width="1" height="1" fill="#f0f0f0"/>
<rect x="351" y="693" width="1" height="1" fill="#f0f0f0"/>
<rect x="351" y="696" width="1" height="1" fill="#f0f0f0"/>
<rect x="352" y="689" width="1" height="1" fill="#f0f0f0"/>
<rect x="352" y="691" width="1" height="1" fill="#f0f0f0"/>
<rect x="352" y="694" width="1" height="1" fill="#f0f0f0"/>
<rect x="353" y="684" width="1" height="1" fill="#f0f0f0"/>
<rect x="353" y="685" width="1" height="1" fill="#f0f0f0"/>
<rect x="353" y="686" width="1" height="1" fill="#f0f0f0"/>
<rect x="353" y="688" width="1" height="1" fill="#f0f0f0"/>
<rect x="353" y="690" width="1" height="1" fill="#f0f0f0"/>
<rect x="353" y="692" width="1" height="1" fill="#f0f0f0"/>
<rect x="353" y="693" width="1" height="1" fill="#f0f0f0"/>
<rect x="353" y="695" width="1" height="1" fill="#f0f0f0"/>
<rect x="353" y="696" width="1" height="1" fill="#f0f0f0"/>
<rect x="354" y="688" width="1" height="1" fill="#f0f0f0"/>
<rect x="354" y="689" width="1" height="1" fill="#f0f0f0"/>
<rect x="354" y="692" width="1" height="1" fill="#f0f0f0"/>
<rect x="354" y="694" width="1" height="1" fill="#f0f0f0"/>
<rect x="354" y="696" width="1" height="1" fill="#f0f0f0"/>
<rect x="516.5" y="683.5" width="11.0" height="14.0" fill="#000" stroke="#f0f0f0" stroke-width="1"/>
<rect x="518" y="685" width="1" height="1" fill="#f0f0f0"/>
<rect x="518" y="687" width="1" height="1" fill="#f0f0f0"/>
<rect x="518" y="689" width="1" height="1" fill="#f0f0f0"/>
<rect x="518" y="691" width="1" height="1" fill="#f0f0f0"/>
<rect x="518" y="693" width="1" height="1" fill="#f0f0f0"/>
<rect x="518" y="695" width="1" height="1" fill="#f0f0f0"/>
<rect x="519" y="686" width="1" height="1" fill="#f0f0f0"/>
<rect x="519" y="687" width="1" height="1" fill="#f0f0f0"/>
<rect x="519" y="690" width="1" height="1" fill="#f0f0f0"/>
<rect x="519" y="691" width="1" height="1" fill="#f0f0f0"/>
<rect x="519" y="695" width="1" height="1" fill="#f0f0f0"/>
<rect x="519" y="696" width="1" height="1" fill="#f0f0f0"/>
<rect x="520" y="685" width="1" height="1" fill="#f0f0f0"/>
<rect x="520" y="686" width="1" height="1" fill="#f0f0f0"/>
<rect x="520" y="687" width="1" height="1" fill="#f0f0f0"/>
<rect x="520" y="689" width="1" height="1" fill="#f0f0f0"/>
<rect x="520" y="691" width="1" height="1" fill="#f0f0f0"/>
<rect x="520" y="692" width="1" height="1" fill="#f0f0f0"/>
<rect x="521" y="689" width="1" height="1" fill="#f0f0f0"/>
<rect x="521" y="690" width="1" height="1" fill="#f0f0f0"/>
<rect x="521" y="691" width="1" height="1" fill="#f0f0f0"/>
<rect x="521" y="693" width="1" height="1" fill="#f0f0f0"/>
<rect x="521" y="694" width="1" height="1" fill="#f0f0f0"/>
<rect x="521" y="695" width="1" height="1" fill="#f0f0f0"/>
<rect x="521" y="696" width="1" height="1" fill="#f0f0f0"/>
<rect x="522" y="686" width="1" height="1" fill="#f0f0f0"/>
<rect x="522" y="689" width="1" height="1" fill="#f0f0f0"/>
<rect x="522" y="691" width="1" height="1" fill="#f0f0f0"/>
<rect x="522" y="692" width="1" height="1" fill="#f0f0f0"/>
<rect x="522" y="693" width="1" height="1" fill="#f0f0f0"/>
<rect x="522" y="694" width="1" height="1" fill="#f0f0f0"/>
<rect x="523" y="686" width="1" height="1" fill="#f0f0f0"/>
<rect x="523" y="688" width="1" height="1" fill="#f0f0f0"/>
<rect x="523" y="691" width="1" height="1" fill="#f0f0f0"/>
<rect x="523" y="693" width="1" height="1" fill="#f0f0f0"/>
<rect x="524" y="687" width="1" height="1" fill="#f0f0f0"/>
<rect x="524" y="690" width="1" height="1" fill="#f0f0f0"/>
<rect x="524" y="692" width="1" height="1" fill="#f0f0f0"/>
<rect x="524" y="696" width="1" height="1" fill="#f0f0f0"/>
<rect x="525" y="687" width="1" height="1" fill="#f0f0f0"/>
<rect x="525" y="689" width="1" height="1" fill="#f0f0f0"/>
<rect x="525" y="695" width="1" height="1" fill="#f0f0f0"/>
<rect x="525" y="696" width="1" height="1" fill="#f0f0f0"/>
<rect x="526" y="690" width="1" height="1" fill="#f0f0f0"/>
<rect x="526" y="691" width="1" height="1" fill="#f0f0f0"/>
<line x1="218.5" y1="111.5" x2="314.5" y2="111.5" stroke="#9c9c9c" stroke-width="1" stroke-linecap="square"/>
<text x="265" y="112" font-size="14" fill="#9c9c9c" text-anchor="middle" textLength="28" lengthAdjust="spacingAndGlyphs">2550</text>
<text x="301.5" y="135" font-size="14" fill="#9c9c9c" text-anchor="middle" transform="rotate(-90 301.5 135)" textLength="28" lengthAdjust="spacingAndGlyphs">2525</text>
<line x1="222.5" y1="310.5" x2="344.5" y2="310.5" stroke="#9c9c9c" stroke-width="1" stroke-linecap="square"/>
<text x="283" y="310.5" font-size="14" fill="#9c9c9c" text-anchor="middle" textLength="28" lengthAdjust="spacingAndGlyphs">3250</text>
<text x="344" y="252.4" font-size="14.5" fill="#9c9c9c" text-anchor="middle" transform="rotate(-90 344 252.4)" textLength="28" lengthAdjust="spacingAndGlyphs">3700</text>
<line x1="190.5" y1="346.5" x2="344.5" y2="346.5" stroke="#9c9c9c" stroke-width="1" stroke-linecap="square"/>
<text x="212" y="347" font-size="14" fill="#9c9c9c" text-anchor="middle" textLength="28" lengthAdjust="spacingAndGlyphs">1200</text>
<text x="273" y="347" font-size="14" fill="#9c9c9c" text-anchor="middle" textLength="28" lengthAdjust="spacingAndGlyphs">2000</text>
<text x="327" y="347" font-size="14" fill="#9c9c9c" text-anchor="middle" textLength="27" lengthAdjust="spacingAndGlyphs">1200</text>
<line x1="215.5" y1="332.5" x2="215.5" y2="422.5" stroke="#9c9c9c" stroke-width="1" stroke-linecap="square"/>
<text x="215.5" y="378" font-size="14" fill="#9c9c9c" text-anchor="middle" transform="rotate(-90 215.5 378)" textLength="28" lengthAdjust="spacingAndGlyphs">2400</text>
<text x="115" y="479" font-size="14" fill="#9c9c9c" text-anchor="middle" transform="rotate(-90 115 479)" textLength="28" lengthAdjust="spacingAndGlyphs">2550</text>
<text x="276" y="678.4" font-size="14" fill="#d8d8d8" text-anchor="middle" transform="rotate(-90 276 678.4)" textLength="28.5" lengthAdjust="spacingAndGlyphs">1000</text>
<text x="540.5" y="677" font-size="14" fill="#9c9c9c" text-anchor="middle" transform="rotate(-90 540.5 677)" textLength="27" lengthAdjust="spacingAndGlyphs">1150</text>
<line x1="475.5" y1="709.5" x2="527.5" y2="709.5" stroke="#9c9c9c" stroke-width="1" stroke-linecap="square"/>
<text x="501" y="709.5" font-size="14" fill="#9c9c9c" text-anchor="middle" textLength="27" lengthAdjust="spacingAndGlyphs">1375</text>
<line x1="540.5" y1="655.5" x2="540.5" y2="697.5" stroke="#9c9c9c" stroke-width="1" stroke-linecap="square"/>
<text x="114" y="122" font-size="12" fill="#e8123f">BED ROOM</text>
<text x="114" y="137" font-size="12" fill="#e8123f">3100 X 3100</text>
<text x="112" y="259" font-size="12" fill="#e8123f">BED ROOM</text>
<text x="112" y="274" font-size="12" fill="#e8123f">3225 X 3200</text>
<text x="329" y="119" font-size="12" fill="#e8123f">TOL.</text>
<text x="329" y="134" font-size="12" fill="#e8123f">1250</text>
<text x="329" y="148" font-size="12" fill="#e8123f">X</text>
<text x="329" y="162" font-size="12" fill="#e8123f">2400</text>
<text x="382" y="121" font-size="12" fill="#e8123f">TOL.</text>
<text x="382" y="136" font-size="12" fill="#e8123f">1250</text>
<text x="382" y="150" font-size="12" fill="#e8123f">X</text>
<text x="382" y="164" font-size="12" fill="#e8123f">2400</text>
<text x="448" y="120.8" font-size="12" fill="#e8123f">BED ROOM</text>
<text x="448" y="134.8" font-size="12" fill="#e8123f">3000 X 3225</text>
<text x="279" y="267" font-size="12" fill="#e8123f" transform="rotate(-90 279 267)">DRA./KIT./DIN</text>
<text x="409" y="265.5" font-size="12" fill="#e8123f">DRA. /LIV.</text>
<text x="410" y="280" font-size="12" fill="#e8123f">4475 X 2950</text>
<text x="416" y="377" font-size="12" fill="#e8123f">BED ROOM</text>
<text x="416" y="390.5" font-size="12" fill="#e8123f">3225 X 3050</text>
<text x="187" y="479.5" font-size="12" fill="#e8123f" textLength="89" lengthAdjust="spacingAndGlyphs">DRA./KIT./DIN.</text>
<text x="172.5" y="494.5" font-size="12" fill="#e8123f" textLength="120" lengthAdjust="spacingAndGlyphs">6600 X 2550 X 2563</text>
<text x="409" y="512" font-size="12" fill="#e8123f">DRA./KIT.</text>
<text x="402" y="526" font-size="12" fill="#e8123f">4475 X 2863</text>
<text x="126.5" y="552" font-size="12" fill="#e8e8e8" textLength="25.5" lengthAdjust="spacingAndGlyphs">TOL</text>
<text x="105" y="567" font-size="12" fill="#e8e8e8">1250 X 2150</text>
<text x="115" y="609" font-size="12" fill="#e8123f">BED</text>
<text x="115" y="623" font-size="12" fill="#e8123f">ROOOM</text>
<text x="115" y="638" font-size="12" fill="#e8123f">3300 X 2888</text>
<text x="252" y="580" font-size="12" fill="#e8123f">BED</text>
<text x="252" y="595" font-size="12" fill="#e8123f">ROOOM</text>
<text x="252" y="609" font-size="12" fill="#e8123f">3175 X 3000</text>
<text x="374" y="609" font-size="12" fill="#e8123f">BED</text>
<text x="374" y="623" font-size="12" fill="#e8123f">ROOOM</text>
<text x="375" y="638" font-size="12" fill="#e8123f">3100 X 3300</text>
<text x="479" y="593" font-size="12" fill="#e8123f">TOL.</text>
<text x="479" y="607" font-size="12" fill="#e8123f">1250</text>
<text x="479" y="622" font-size="12" fill="#e8123f">X</text>
<text x="479" y="636" font-size="12" fill="#e8123f">2150</text>
<text x="489" y="676" font-size="12" fill="#e8123f">BAL.</text>
<text x="286" y="674" font-size="9" fill="#e8123f">VER.</text>
<text x="290.5" y="640" font-size="9.5" fill="#e8e8e8">W3</text>
<text x="207" y="194" font-size="11" fill="#00e2ec">D2</text>
<text x="209.5" y="222.7" font-size="11" fill="#00e2ec">D2</text>
<text x="320" y="199" font-size="11" fill="#00e2ec">D1</text>
<text x="389.5" y="199" font-size="11" fill="#00e2ec">D1</text>
<text x="426" y="213" font-size="11" fill="#00e2ec">D2</text>
<text x="326" y="332" font-size="11" fill="#00e2ec">D</text>
<text x="344.5" y="367" font-size="11" fill="#00e2ec">D</text>
<text x="344.5" y="403" font-size="11" fill="#00e2ec">D</text>
<text x="328" y="432" font-size="11" fill="#00e2ec">D</text>
<text x="406" y="466" font-size="11" fill="#00e2ec">D2</text>
<text x="174" y="525" font-size="11" fill="#00e2ec">D1</text>
<text x="199" y="539.5" font-size="11" fill="#00e2ec">D2</text>
<text x="235" y="538" font-size="11" fill="#00e2ec">D2</text>
<text x="475" y="569" font-size="11" fill="#00e2ec">D1</text>
<text x="459" y="675" font-size="11" fill="#00e2ec">D1</text>
<text x="152" y="72" font-size="10.5" fill="#a8e010" text-anchor="middle">W2</text>
<text x="236" y="72" font-size="10.5" fill="#a8e010" text-anchor="middle">W1</text>
<text x="293.5" y="72" font-size="10.5" fill="#a8e010" text-anchor="middle">W1</text>
<text x="330.5" y="72" font-size="10.5" fill="#a8e010" text-anchor="middle">W4</text>
<text x="392.8" y="72" font-size="10.5" fill="#a8e010" text-anchor="middle">W4</text>
<text x="486" y="72" font-size="10.5" fill="#a8e010" text-anchor="middle">W2</text>
<text x="76.5" y="143" font-size="10.5" fill="#a8e010" text-anchor="middle" transform="rotate(-90 76.5 139)">W3</text>
<text x="76.5" y="262" font-size="10.5" fill="#a8e010" text-anchor="middle" transform="rotate(-90 76.5 258)">W3</text>
<text x="173.5" y="377" font-size="10.5" fill="#a8e010" text-anchor="middle" transform="rotate(-90 173.5 373)">W</text>
<text x="76.5" y="475" font-size="10.5" fill="#a8e010" text-anchor="middle" transform="rotate(-90 76.5 471)">W3</text>
<text x="77.5" y="570.6" font-size="10.5" fill="#a8e010" text-anchor="middle" transform="rotate(-90 77.5 566.6)">W4</text>
<text x="76.5" y="642" font-size="10.5" fill="#a8e010" text-anchor="middle" transform="rotate(-90 76.5 638)">W3</text>
<text x="551.5" y="138.5" font-size="10.5" fill="#a8e010" text-anchor="middle" transform="rotate(90 551.5 134.5)">W3</text>
<text x="535.5" y="270.6" font-size="10.5" fill="#a8e010" text-anchor="middle" transform="rotate(90 535.5 266.6)">W3</text>
<text x="535" y="387.6" font-size="10.5" fill="#a8e010" text-anchor="middle" transform="rotate(90 535 383.6)">W3</text>
<text x="535" y="517.4" font-size="10.5" fill="#a8e010" text-anchor="middle" transform="rotate(90 535 513.4)">W3</text>
<text x="535" y="616" font-size="10.5" fill="#a8e010" text-anchor="middle" transform="rotate(90 535 612)">W4</text>
<text x="161.8" y="709.5" font-size="10.5" fill="#a8e010" text-anchor="middle" transform="rotate(180 161.8 705.5)">W2</text>
<text x="409" y="709.5" font-size="10.5" fill="#a8e010" text-anchor="middle" transform="rotate(180 409 705.5)">W2</text>
<circle cx="305.5" cy="235.2" r="11.2" fill="none" stroke="#dadada" stroke-width="1.1" shape-rendering="geometricPrecision"/>
<text x="305.8" y="240.39999999999998" font-size="16.5" fill="#f0f0f0" text-anchor="middle">D</text>
<circle cx="431.7" cy="237.5" r="11.2" fill="none" stroke="#dadada" stroke-width="1.1" shape-rendering="geometricPrecision"/>
<text x="432.0" y="242.7" font-size="16.5" fill="#f0f0f0" text-anchor="middle">C</text>
<circle cx="229.7" cy="452.3" r="11.2" fill="none" stroke="#dadada" stroke-width="1.1" shape-rendering="geometricPrecision"/>
<text x="230.0" y="457.5" font-size="16.5" fill="#f0f0f0" text-anchor="middle">A</text>
<circle cx="437.8" cy="488.3" r="11.2" fill="none" stroke="#dadada" stroke-width="1.1" shape-rendering="geometricPrecision"/>
<text x="438.1" y="493.5" font-size="16.5" fill="#f0f0f0" text-anchor="middle">B</text>
<text x="171" y="802.6" font-size="20.8" fill="#8e8e8e" textLength="287" lengthAdjust="spacingAndGlyphs">1ST,2ND,&amp;3RD FLOOR PLAN</text>
</svg></body></html>
